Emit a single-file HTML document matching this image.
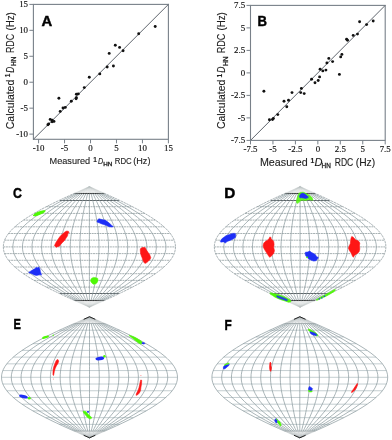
<!DOCTYPE html>
<html><head><meta charset="utf-8"><style>
html,body{margin:0;padding:0;background:#fff;}
svg{display:block;}
.tk{font-family:"Liberation Serif", serif;font-size:8.9px;fill:#111;stroke:#111;stroke-width:0.15;}
.al{font-family:"Liberation Sans", sans-serif;fill:#1e1e1e;stroke:#1e1e1e;stroke-width:0.12;}
.sb{stroke-width:0.3;}
.lt{font-family:"Liberation Sans", sans-serif;font-weight:bold;fill:#000;stroke:#000;stroke-width:0.45;}
.pl{stroke:#b5c2c5;stroke-width:0.8;fill:none;}
.pl8{stroke:#262626;stroke-width:1.1;fill:none;}
.cap{stroke:#bcc2c4;stroke-width:0.42;fill:none;}
.cape{stroke:#a9b1b3;stroke-width:0.5;fill:none;}
.capedge{stroke:#222;stroke-width:1;fill:none;stroke-linejoin:miter;}
.pl8e{stroke:#9aa3a6;stroke-width:0.8;fill:none;}
.pl7{stroke:#5f6669;stroke-width:1;fill:none;}
.me{stroke:#85959a;stroke-width:0.7;fill:none;}
.meo{stroke:#8d9a9e;stroke-width:0.75;fill:none;stroke-dasharray:2.5 0.6;}
.pld{stroke:#98a4a7;stroke-width:0.85;fill:none;stroke-dasharray:2 0.6;}
circle{fill:#111;}
</style></head><body>
<svg width="392" height="440" viewBox="0 0 392 440">
<rect width="392" height="440" fill="#fff"/>
<rect x="33.4" y="4.4" width="135" height="134.9" fill="none" stroke="#788089" stroke-width="1.1"/>
<line x1="33.4" y1="139.3" x2="168.4" y2="4.4" stroke="#5f656d" stroke-width="1"/>
<line x1="38.59" y1="139.3" x2="38.59" y2="143.3" stroke="#788089" stroke-width="1"/>
<line x1="29.4" y1="134.11" x2="33.4" y2="134.11" stroke="#788089" stroke-width="1"/>
<text x="38.59" y="151.3" text-anchor="middle" class="tk">-10</text>
<text x="28" y="137.11" text-anchor="end" class="tk">-10</text>
<line x1="64.55" y1="139.3" x2="64.55" y2="143.3" stroke="#788089" stroke-width="1"/>
<line x1="29.4" y1="108.17" x2="33.4" y2="108.17" stroke="#788089" stroke-width="1"/>
<text x="64.55" y="151.3" text-anchor="middle" class="tk">-5</text>
<text x="28" y="111.17" text-anchor="end" class="tk">-5</text>
<line x1="90.52" y1="139.3" x2="90.52" y2="143.3" stroke="#788089" stroke-width="1"/>
<line x1="29.4" y1="82.23" x2="33.4" y2="82.23" stroke="#788089" stroke-width="1"/>
<text x="90.52" y="151.3" text-anchor="middle" class="tk">0</text>
<text x="28" y="85.23" text-anchor="end" class="tk">0</text>
<line x1="116.48" y1="139.3" x2="116.48" y2="143.3" stroke="#788089" stroke-width="1"/>
<line x1="29.4" y1="56.28" x2="33.4" y2="56.28" stroke="#788089" stroke-width="1"/>
<text x="116.48" y="151.3" text-anchor="middle" class="tk">5</text>
<text x="28" y="59.28" text-anchor="end" class="tk">5</text>
<line x1="142.44" y1="139.3" x2="142.44" y2="143.3" stroke="#788089" stroke-width="1"/>
<line x1="29.4" y1="30.34" x2="33.4" y2="30.34" stroke="#788089" stroke-width="1"/>
<text x="142.44" y="151.3" text-anchor="middle" class="tk">10</text>
<text x="28" y="33.34" text-anchor="end" class="tk">10</text>
<line x1="168.4" y1="139.3" x2="168.4" y2="143.3" stroke="#788089" stroke-width="1"/>
<line x1="29.4" y1="4.4" x2="33.4" y2="4.4" stroke="#788089" stroke-width="1"/>
<text x="168.4" y="151.3" text-anchor="middle" class="tk">15</text>
<text x="28" y="7.4" text-anchor="end" class="tk">15</text>
<circle cx="155.2" cy="26.5" r="1.45"/>
<circle cx="138.7" cy="33.8" r="1.45"/>
<circle cx="115.3" cy="45.3" r="1.45"/>
<circle cx="119.6" cy="47.4" r="1.45"/>
<circle cx="123.1" cy="50.8" r="1.45"/>
<circle cx="109.2" cy="53.4" r="1.45"/>
<circle cx="107.2" cy="67" r="1.45"/>
<circle cx="113.4" cy="66" r="1.45"/>
<circle cx="89.3" cy="77.2" r="1.45"/>
<circle cx="99.8" cy="73.9" r="1.45"/>
<circle cx="84.3" cy="87.6" r="1.45"/>
<circle cx="76.4" cy="94.2" r="1.45"/>
<circle cx="78.3" cy="93.9" r="1.45"/>
<circle cx="76.4" cy="97.8" r="1.45"/>
<circle cx="76.1" cy="98.8" r="1.45"/>
<circle cx="71.3" cy="101.3" r="1.45"/>
<circle cx="58.9" cy="98.3" r="1.45"/>
<circle cx="63" cy="108" r="1.45"/>
<circle cx="65.3" cy="107.4" r="1.45"/>
<circle cx="60.2" cy="111.4" r="1.45"/>
<circle cx="50.2" cy="119.4" r="1.45"/>
<circle cx="52.1" cy="120.1" r="1.45"/>
<circle cx="54" cy="121.4" r="1.45"/>
<circle cx="52.1" cy="121.7" r="1.45"/>
<circle cx="48.7" cy="123.9" r="1.45"/>
<circle cx="47.9" cy="124.8" r="1.45"/>
<text x="41.55" y="26.2" class="lt" style="font-size:15px;font-weight:bold;" textLength="10.72" lengthAdjust="spacingAndGlyphs">A</text>
<text x="13.6" y="129.22" class="al" style="font-size:10px;" textLength="49.51" lengthAdjust="spacingAndGlyphs" transform="rotate(-90 13.6 129.22)">Calculated</text>
<text x="9.9" y="77.3" class="al" style="font-size:6.6px;font-weight:bold;" textLength="3.67" lengthAdjust="spacingAndGlyphs" transform="rotate(-90 9.9 77.3)">1</text>
<text x="13.6" y="72.85" class="al" style="font-size:10px;font-style:italic;" textLength="6.02" lengthAdjust="spacingAndGlyphs" transform="rotate(-90 13.6 72.85)">D</text>
<text x="15.7" y="66.02" class="al sb" style="font-size:6.6px;" textLength="9.37" lengthAdjust="spacingAndGlyphs" transform="rotate(-90 15.7 66.02)">HN</text>
<text x="13.6" y="53.11" class="al" style="font-size:10px;" textLength="19.22" lengthAdjust="spacingAndGlyphs" transform="rotate(-90 13.6 53.11)">RDC</text>
<text x="13.6" y="30.48" class="al" style="font-size:10px;" textLength="18.14" lengthAdjust="spacingAndGlyphs" transform="rotate(-90 13.6 30.48)">(Hz)</text>
<text x="49.57" y="164.2" class="al" style="font-size:9px;" textLength="40.64" lengthAdjust="spacingAndGlyphs">Measured</text>
<text x="93.23" y="161.6" class="al" style="font-size:6.5px;font-weight:bold;" textLength="3.62" lengthAdjust="spacingAndGlyphs">1</text>
<text x="97.89" y="164.2" class="al" style="font-size:9px;font-style:italic;" textLength="5.14" lengthAdjust="spacingAndGlyphs">D</text>
<text x="103.2" y="165.5" class="al sb" style="font-size:5.8px;" textLength="9.03" lengthAdjust="spacingAndGlyphs">HN</text>
<text x="114.77" y="164.2" class="al" style="font-size:9px;" textLength="16.99" lengthAdjust="spacingAndGlyphs">RDC</text>
<text x="133.25" y="164.2" class="al" style="font-size:9px;" textLength="17.18" lengthAdjust="spacingAndGlyphs">(Hz)</text>
<rect x="250.5" y="5.4" width="134.7" height="135" fill="none" stroke="#788089" stroke-width="1.1"/>
<line x1="250.5" y1="140.4" x2="385.2" y2="5.4" stroke="#5f656d" stroke-width="1"/>
<line x1="250.5" y1="140.4" x2="250.5" y2="144.4" stroke="#788089" stroke-width="1"/>
<line x1="246.5" y1="140.4" x2="250.5" y2="140.4" stroke="#788089" stroke-width="1"/>
<text x="250.5" y="152.4" text-anchor="middle" class="tk">-7.5</text>
<text x="245.1" y="143.4" text-anchor="end" class="tk">-7.5</text>
<line x1="272.95" y1="140.4" x2="272.95" y2="144.4" stroke="#788089" stroke-width="1"/>
<line x1="246.5" y1="117.9" x2="250.5" y2="117.9" stroke="#788089" stroke-width="1"/>
<text x="272.95" y="152.4" text-anchor="middle" class="tk">-5</text>
<text x="245.1" y="120.9" text-anchor="end" class="tk">-5</text>
<line x1="295.4" y1="140.4" x2="295.4" y2="144.4" stroke="#788089" stroke-width="1"/>
<line x1="246.5" y1="95.4" x2="250.5" y2="95.4" stroke="#788089" stroke-width="1"/>
<text x="295.4" y="152.4" text-anchor="middle" class="tk">-2.5</text>
<text x="245.1" y="98.4" text-anchor="end" class="tk">-2.5</text>
<line x1="317.85" y1="140.4" x2="317.85" y2="144.4" stroke="#788089" stroke-width="1"/>
<line x1="246.5" y1="72.9" x2="250.5" y2="72.9" stroke="#788089" stroke-width="1"/>
<text x="317.85" y="152.4" text-anchor="middle" class="tk">0</text>
<text x="245.1" y="75.9" text-anchor="end" class="tk">0</text>
<line x1="340.3" y1="140.4" x2="340.3" y2="144.4" stroke="#788089" stroke-width="1"/>
<line x1="246.5" y1="50.4" x2="250.5" y2="50.4" stroke="#788089" stroke-width="1"/>
<text x="340.3" y="152.4" text-anchor="middle" class="tk">2.5</text>
<text x="245.1" y="53.4" text-anchor="end" class="tk">2.5</text>
<line x1="362.75" y1="140.4" x2="362.75" y2="144.4" stroke="#788089" stroke-width="1"/>
<line x1="246.5" y1="27.9" x2="250.5" y2="27.9" stroke="#788089" stroke-width="1"/>
<text x="362.75" y="152.4" text-anchor="middle" class="tk">5</text>
<text x="245.1" y="30.9" text-anchor="end" class="tk">5</text>
<line x1="385.2" y1="140.4" x2="385.2" y2="144.4" stroke="#788089" stroke-width="1"/>
<line x1="246.5" y1="5.4" x2="250.5" y2="5.4" stroke="#788089" stroke-width="1"/>
<text x="385.2" y="152.4" text-anchor="middle" class="tk">7.5</text>
<text x="245.1" y="8.4" text-anchor="end" class="tk">7.5</text>
<circle cx="359.6" cy="21.7" r="1.45"/>
<circle cx="373.2" cy="21" r="1.45"/>
<circle cx="366.6" cy="24.6" r="1.45"/>
<circle cx="346.6" cy="39.2" r="1.45"/>
<circle cx="347.5" cy="40.2" r="1.45"/>
<circle cx="353.2" cy="35.4" r="1.45"/>
<circle cx="357.5" cy="34.1" r="1.45"/>
<circle cx="341.9" cy="54.4" r="1.45"/>
<circle cx="340.7" cy="56.9" r="1.45"/>
<circle cx="328.8" cy="58.4" r="1.45"/>
<circle cx="332.6" cy="61.6" r="1.45"/>
<circle cx="326.9" cy="62.9" r="1.45"/>
<circle cx="320.1" cy="69.3" r="1.45"/>
<circle cx="322.8" cy="70.9" r="1.45"/>
<circle cx="325.9" cy="70.1" r="1.45"/>
<circle cx="339.4" cy="74.4" r="1.45"/>
<circle cx="311.6" cy="79.2" r="1.45"/>
<circle cx="319.6" cy="76.9" r="1.45"/>
<circle cx="318.2" cy="80.5" r="1.45"/>
<circle cx="315" cy="82.8" r="1.45"/>
<circle cx="301.4" cy="88.4" r="1.45"/>
<circle cx="300.7" cy="92.6" r="1.45"/>
<circle cx="304.2" cy="93.6" r="1.45"/>
<circle cx="263.9" cy="91.2" r="1.45"/>
<circle cx="292" cy="92.6" r="1.45"/>
<circle cx="288.5" cy="100.2" r="1.45"/>
<circle cx="284" cy="101.3" r="1.45"/>
<circle cx="286.8" cy="106.8" r="1.45"/>
<circle cx="277.8" cy="114.6" r="1.45"/>
<circle cx="273.4" cy="118.4" r="1.45"/>
<circle cx="269.4" cy="119.8" r="1.45"/>
<circle cx="272.5" cy="119.5" r="1.45"/>
<text x="257.58" y="26.2" class="lt" style="font-size:15px;font-weight:bold;" textLength="9.47" lengthAdjust="spacingAndGlyphs">B</text>
<text x="225.5" y="129.12" class="al" style="font-size:10px;" textLength="49.51" lengthAdjust="spacingAndGlyphs" transform="rotate(-90 225.5 129.12)">Calculated</text>
<text x="221.6" y="77.4" class="al" style="font-size:6.6px;font-weight:bold;" textLength="3.67" lengthAdjust="spacingAndGlyphs" transform="rotate(-90 221.6 77.4)">1</text>
<text x="225.5" y="72.85" class="al" style="font-size:10px;font-style:italic;" textLength="6.13" lengthAdjust="spacingAndGlyphs" transform="rotate(-90 225.5 72.85)">D</text>
<text x="227.6" y="66.03" class="al sb" style="font-size:6.6px;" textLength="9.59" lengthAdjust="spacingAndGlyphs" transform="rotate(-90 227.6 66.03)">HN</text>
<text x="225.5" y="53.32" class="al" style="font-size:10px;" textLength="19.54" lengthAdjust="spacingAndGlyphs" transform="rotate(-90 225.5 53.32)">RDC</text>
<text x="225.5" y="30.48" class="al" style="font-size:10px;" textLength="18.24" lengthAdjust="spacingAndGlyphs" transform="rotate(-90 225.5 30.48)">(Hz)</text>
<text x="259.94" y="166.3" class="al" style="font-size:10.6px;" textLength="47.67" lengthAdjust="spacingAndGlyphs">Measured</text>
<text x="310.44" y="163" class="al" style="font-size:6.8px;font-weight:bold;" textLength="3.78" lengthAdjust="spacingAndGlyphs">1</text>
<text x="314.47" y="166.3" class="al" style="font-size:10.6px;font-style:italic;" textLength="7.99" lengthAdjust="spacingAndGlyphs">D</text>
<text x="321.59" y="168.2" class="al sb" style="font-size:6.6px;" textLength="9.25" lengthAdjust="spacingAndGlyphs">HN</text>
<text x="334.71" y="166.3" class="al" style="font-size:10.6px;" textLength="18.59" lengthAdjust="spacingAndGlyphs">RDC</text>
<text x="355.78" y="166.3" class="al" style="font-size:10.6px;" textLength="19.42" lengthAdjust="spacingAndGlyphs">(Hz)</text>
<line x1="74.45" y1="300.5" x2="104.35" y2="300.5" class="pl8"/>
<line x1="59.95" y1="293.5" x2="118.85" y2="293.5" class="pl7"/>
<line x1="46.35" y1="287.1" x2="132.45" y2="287.1" class="pld"/>
<line x1="34.06" y1="280.4" x2="144.74" y2="280.4" class="pld"/>
<line x1="23.44" y1="273.7" x2="155.36" y2="273.7" class="pld"/>
<line x1="14.84" y1="267" x2="163.96" y2="267" class="pld"/>
<line x1="8.49" y1="260.3" x2="170.31" y2="260.3" class="pld"/>
<line x1="4.61" y1="253.6" x2="174.19" y2="253.6" class="pld"/>
<line x1="3.3" y1="246.9" x2="175.5" y2="246.9" class="pld"/>
<line x1="4.61" y1="240.2" x2="174.19" y2="240.2" class="pld"/>
<line x1="8.49" y1="233.5" x2="170.31" y2="233.5" class="pld"/>
<line x1="14.84" y1="226.8" x2="163.96" y2="226.8" class="pld"/>
<line x1="23.44" y1="220.1" x2="155.36" y2="220.1" class="pld"/>
<line x1="34.06" y1="213.4" x2="144.74" y2="213.4" class="pld"/>
<line x1="46.35" y1="206.7" x2="132.45" y2="206.7" class="pld"/>
<line x1="59.95" y1="200.5" x2="118.85" y2="200.5" class="pl7"/>
<line x1="74.45" y1="193.5" x2="104.35" y2="193.5" class="pl8"/>
<polyline points="74.45,300.5 68.57,297.82 62.79,295.14 57.15,292.46 51.66,289.78 46.35,287.1 41.25,284.42 36.39,281.74 31.79,279.06 27.46,276.38 23.44,273.7 19.74,271.02 16.38,268.34 13.38,265.66 10.74,262.98 8.49,260.3 6.64,257.62 5.18,254.94 4.14,252.26 3.51,249.58 3.3,246.9 3.51,244.22 4.14,241.54 5.18,238.86 6.64,236.18 8.49,233.5 10.74,230.82 13.38,228.14 16.38,225.46 19.74,222.78 23.44,220.1 27.46,217.42 31.79,214.74 36.39,212.06 41.25,209.38 46.35,206.7 51.66,204.02 57.15,201.34 62.79,198.66 68.57,195.98 74.45,193.3" class="meo"/>
<polyline points="76.11,300.5 70.88,297.82 65.75,295.14 60.73,292.46 55.85,289.78 51.13,287.1 46.6,284.42 42.28,281.74 38.19,279.06 34.35,276.38 30.77,273.7 27.48,271.02 24.5,268.34 21.83,265.66 19.48,262.98 17.48,260.3 15.83,257.62 14.54,254.94 13.61,252.26 13.05,249.58 12.87,246.9 13.05,244.22 13.61,241.54 14.54,238.86 15.83,236.18 17.48,233.5 19.48,230.82 21.83,228.14 24.5,225.46 27.48,222.78 30.77,220.1 34.35,217.42 38.19,214.74 42.28,212.06 46.6,209.38 51.13,206.7 55.85,204.02 60.73,201.34 65.75,198.66 70.88,195.98 76.11,193.3" class="me"/>
<polyline points="77.77,300.5 73.2,297.82 68.71,295.14 64.31,292.46 60.04,289.78 55.92,287.1 51.95,284.42 48.17,281.74 44.59,279.06 41.23,276.38 38.1,273.7 35.22,271.02 32.61,268.34 30.27,265.66 28.22,262.98 26.47,260.3 25.03,257.62 23.9,254.94 23.09,252.26 22.6,249.58 22.43,246.9 22.6,244.22 23.09,241.54 23.9,238.86 25.03,236.18 26.47,233.5 28.22,230.82 30.27,228.14 32.61,225.46 35.22,222.78 38.1,220.1 41.23,217.42 44.59,214.74 48.17,212.06 51.95,209.38 55.92,206.7 60.04,204.02 64.31,201.34 68.71,198.66 73.2,195.98 77.77,193.3" class="me"/>
<polyline points="79.43,300.5 75.51,297.82 71.66,295.14 67.9,292.46 64.24,289.78 60.7,287.1 57.3,284.42 54.06,281.74 50.99,279.06 48.11,276.38 45.43,273.7 42.96,271.02 40.72,268.34 38.72,265.66 36.96,262.98 35.46,260.3 34.22,257.62 33.25,254.94 32.56,252.26 32.14,249.58 32,246.9 32.14,244.22 32.56,241.54 33.25,238.86 34.22,236.18 35.46,233.5 36.96,230.82 38.72,228.14 40.72,225.46 42.96,222.78 45.43,220.1 48.11,217.42 50.99,214.74 54.06,212.06 57.3,209.38 60.7,206.7 64.24,204.02 67.9,201.34 71.66,198.66 75.51,195.98 79.43,193.3" class="me"/>
<polyline points="81.09,300.5 77.83,297.82 74.62,295.14 71.48,292.46 68.43,289.78 65.48,287.1 62.65,284.42 59.95,281.74 57.39,279.06 54.99,276.38 52.76,273.7 50.7,271.02 48.84,268.34 47.17,265.66 45.7,262.98 44.45,260.3 43.42,257.62 42.61,254.94 42.03,252.26 41.68,249.58 41.57,246.9 41.68,244.22 42.03,241.54 42.61,238.86 43.42,236.18 44.45,233.5 45.7,230.82 47.17,228.14 48.84,225.46 50.7,222.78 52.76,220.1 54.99,217.42 57.39,214.74 59.95,212.06 62.65,209.38 65.48,206.7 68.43,204.02 71.48,201.34 74.62,198.66 77.83,195.98 81.09,193.3" class="me"/>
<polyline points="82.76,300.5 80.14,297.82 77.57,295.14 75.07,292.46 72.62,289.78 70.27,287.1 68,284.42 65.84,281.74 63.79,279.06 61.87,276.38 60.09,273.7 58.44,271.02 56.95,268.34 55.61,265.66 54.44,262.98 53.44,260.3 52.62,257.62 51.97,254.94 51.51,252.26 51.23,249.58 51.13,246.9 51.23,244.22 51.51,241.54 51.97,238.86 52.62,236.18 53.44,233.5 54.44,230.82 55.61,228.14 56.95,225.46 58.44,222.78 60.09,220.1 61.87,217.42 63.79,214.74 65.84,212.06 68,209.38 70.27,206.7 72.62,204.02 75.07,201.34 77.57,198.66 80.14,195.98 82.76,193.3" class="me"/>
<polyline points="84.42,300.5 82.46,297.82 80.53,295.14 78.65,292.46 76.82,289.78 75.05,287.1 73.35,284.42 71.73,281.74 70.2,279.06 68.75,276.38 67.41,273.7 66.18,271.02 65.06,268.34 64.06,265.66 63.18,262.98 62.43,260.3 61.81,257.62 61.33,254.94 60.98,252.26 60.77,249.58 60.7,246.9 60.77,244.22 60.98,241.54 61.33,238.86 61.81,236.18 62.43,233.5 63.18,230.82 64.06,228.14 65.06,225.46 66.18,222.78 67.41,220.1 68.75,217.42 70.2,214.74 71.73,212.06 73.35,209.38 75.05,206.7 76.82,204.02 78.65,201.34 80.53,198.66 82.46,195.98 84.42,193.3" class="me"/>
<polyline points="86.08,300.5 84.77,297.82 83.49,295.14 82.23,292.46 81.01,289.78 79.83,287.1 78.7,284.42 77.62,281.74 76.6,279.06 75.64,276.38 74.74,273.7 73.92,271.02 73.17,268.34 72.51,265.66 71.92,262.98 71.42,260.3 71.01,257.62 70.68,254.94 70.45,252.26 70.31,249.58 70.27,246.9 70.31,244.22 70.45,241.54 70.68,238.86 71.01,236.18 71.42,233.5 71.92,230.82 72.51,228.14 73.17,225.46 73.92,222.78 74.74,220.1 75.64,217.42 76.6,214.74 77.62,212.06 78.7,209.38 79.83,206.7 81.01,204.02 82.23,201.34 83.49,198.66 84.77,195.98 86.08,193.3" class="me"/>
<polyline points="87.74,300.5 87.09,297.82 86.44,295.14 85.82,292.46 85.21,289.78 84.62,287.1 84.05,284.42 83.51,281.74 83,279.06 82.52,276.38 82.07,273.7 81.66,271.02 81.29,268.34 80.95,265.66 80.66,262.98 80.41,260.3 80.2,257.62 80.04,254.94 79.93,252.26 79.86,249.58 79.83,246.9 79.86,244.22 79.93,241.54 80.04,238.86 80.2,236.18 80.41,233.5 80.66,230.82 80.95,228.14 81.29,225.46 81.66,222.78 82.07,220.1 82.52,217.42 83,214.74 83.51,212.06 84.05,209.38 84.62,206.7 85.21,204.02 85.82,201.34 86.44,198.66 87.09,195.98 87.74,193.3" class="me"/>
<polyline points="89.4,300.5 89.4,297.82 89.4,295.14 89.4,292.46 89.4,289.78 89.4,287.1 89.4,284.42 89.4,281.74 89.4,279.06 89.4,276.38 89.4,273.7 89.4,271.02 89.4,268.34 89.4,265.66 89.4,262.98 89.4,260.3 89.4,257.62 89.4,254.94 89.4,252.26 89.4,249.58 89.4,246.9 89.4,244.22 89.4,241.54 89.4,238.86 89.4,236.18 89.4,233.5 89.4,230.82 89.4,228.14 89.4,225.46 89.4,222.78 89.4,220.1 89.4,217.42 89.4,214.74 89.4,212.06 89.4,209.38 89.4,206.7 89.4,204.02 89.4,201.34 89.4,198.66 89.4,195.98 89.4,193.3" class="me"/>
<polyline points="91.06,300.5 91.71,297.82 92.36,295.14 92.98,292.46 93.59,289.78 94.18,287.1 94.75,284.42 95.29,281.74 95.8,279.06 96.28,276.38 96.73,273.7 97.14,271.02 97.51,268.34 97.85,265.66 98.14,262.98 98.39,260.3 98.6,257.62 98.76,254.94 98.87,252.26 98.94,249.58 98.97,246.9 98.94,244.22 98.87,241.54 98.76,238.86 98.6,236.18 98.39,233.5 98.14,230.82 97.85,228.14 97.51,225.46 97.14,222.78 96.73,220.1 96.28,217.42 95.8,214.74 95.29,212.06 94.75,209.38 94.18,206.7 93.59,204.02 92.98,201.34 92.36,198.66 91.71,195.98 91.06,193.3" class="me"/>
<polyline points="92.72,300.5 94.03,297.82 95.31,295.14 96.57,292.46 97.79,289.78 98.97,287.1 100.1,284.42 101.18,281.74 102.2,279.06 103.16,276.38 104.06,273.7 104.88,271.02 105.63,268.34 106.29,265.66 106.88,262.98 107.38,260.3 107.79,257.62 108.12,254.94 108.35,252.26 108.49,249.58 108.53,246.9 108.49,244.22 108.35,241.54 108.12,238.86 107.79,236.18 107.38,233.5 106.88,230.82 106.29,228.14 105.63,225.46 104.88,222.78 104.06,220.1 103.16,217.42 102.2,214.74 101.18,212.06 100.1,209.38 98.97,206.7 97.79,204.02 96.57,201.34 95.31,198.66 94.03,195.98 92.72,193.3" class="me"/>
<polyline points="94.38,300.5 96.34,297.82 98.27,295.14 100.15,292.46 101.98,289.78 103.75,287.1 105.45,284.42 107.07,281.74 108.6,279.06 110.05,276.38 111.39,273.7 112.62,271.02 113.74,268.34 114.74,265.66 115.62,262.98 116.37,260.3 116.99,257.62 117.47,254.94 117.82,252.26 118.03,249.58 118.1,246.9 118.03,244.22 117.82,241.54 117.47,238.86 116.99,236.18 116.37,233.5 115.62,230.82 114.74,228.14 113.74,225.46 112.62,222.78 111.39,220.1 110.05,217.42 108.6,214.74 107.07,212.06 105.45,209.38 103.75,206.7 101.98,204.02 100.15,201.34 98.27,198.66 96.34,195.98 94.38,193.3" class="me"/>
<polyline points="96.04,300.5 98.66,297.82 101.23,295.14 103.73,292.46 106.18,289.78 108.53,287.1 110.8,284.42 112.96,281.74 115.01,279.06 116.93,276.38 118.71,273.7 120.36,271.02 121.85,268.34 123.19,265.66 124.36,262.98 125.36,260.3 126.18,257.62 126.83,254.94 127.29,252.26 127.57,249.58 127.67,246.9 127.57,244.22 127.29,241.54 126.83,238.86 126.18,236.18 125.36,233.5 124.36,230.82 123.19,228.14 121.85,225.46 120.36,222.78 118.71,220.1 116.93,217.42 115.01,214.74 112.96,212.06 110.8,209.38 108.53,206.7 106.18,204.02 103.73,201.34 101.23,198.66 98.66,195.98 96.04,193.3" class="me"/>
<polyline points="97.71,300.5 100.97,297.82 104.18,295.14 107.32,292.46 110.37,289.78 113.32,287.1 116.15,284.42 118.85,281.74 121.41,279.06 123.81,276.38 126.04,273.7 128.1,271.02 129.96,268.34 131.63,265.66 133.1,262.98 134.35,260.3 135.38,257.62 136.19,254.94 136.77,252.26 137.12,249.58 137.23,246.9 137.12,244.22 136.77,241.54 136.19,238.86 135.38,236.18 134.35,233.5 133.1,230.82 131.63,228.14 129.96,225.46 128.1,222.78 126.04,220.1 123.81,217.42 121.41,214.74 118.85,212.06 116.15,209.38 113.32,206.7 110.37,204.02 107.32,201.34 104.18,198.66 100.97,195.98 97.71,193.3" class="me"/>
<polyline points="99.37,300.5 103.29,297.82 107.14,295.14 110.9,292.46 114.56,289.78 118.1,287.1 121.5,284.42 124.74,281.74 127.81,279.06 130.69,276.38 133.37,273.7 135.84,271.02 138.08,268.34 140.08,265.66 141.84,262.98 143.34,260.3 144.58,257.62 145.55,254.94 146.24,252.26 146.66,249.58 146.8,246.9 146.66,244.22 146.24,241.54 145.55,238.86 144.58,236.18 143.34,233.5 141.84,230.82 140.08,228.14 138.08,225.46 135.84,222.78 133.37,220.1 130.69,217.42 127.81,214.74 124.74,212.06 121.5,209.38 118.1,206.7 114.56,204.02 110.9,201.34 107.14,198.66 103.29,195.98 99.37,193.3" class="me"/>
<polyline points="101.03,300.5 105.6,297.82 110.09,295.14 114.49,292.46 118.76,289.78 122.88,287.1 126.85,284.42 130.63,281.74 134.21,279.06 137.57,276.38 140.7,273.7 143.58,271.02 146.19,268.34 148.53,265.66 150.58,262.98 152.33,260.3 153.77,257.62 154.9,254.94 155.71,252.26 156.2,249.58 156.37,246.9 156.2,244.22 155.71,241.54 154.9,238.86 153.77,236.18 152.33,233.5 150.58,230.82 148.53,228.14 146.19,225.46 143.58,222.78 140.7,220.1 137.57,217.42 134.21,214.74 130.63,212.06 126.85,209.38 122.88,206.7 118.76,204.02 114.49,201.34 110.09,198.66 105.6,195.98 101.03,193.3" class="me"/>
<polyline points="102.69,300.5 107.92,297.82 113.05,295.14 118.07,292.46 122.95,289.78 127.67,287.1 132.2,284.42 136.52,281.74 140.61,279.06 144.45,276.38 148.03,273.7 151.32,271.02 154.3,268.34 156.97,265.66 159.32,262.98 161.32,260.3 162.97,257.62 164.26,254.94 165.19,252.26 165.75,249.58 165.93,246.9 165.75,244.22 165.19,241.54 164.26,238.86 162.97,236.18 161.32,233.5 159.32,230.82 156.97,228.14 154.3,225.46 151.32,222.78 148.03,220.1 144.45,217.42 140.61,214.74 136.52,212.06 132.2,209.38 127.67,206.7 122.95,204.02 118.07,201.34 113.05,198.66 107.92,195.98 102.69,193.3" class="me"/>
<polyline points="104.35,300.5 110.23,297.82 116.01,295.14 121.65,292.46 127.14,289.78 132.45,287.1 137.55,284.42 142.41,281.74 147.01,279.06 151.34,276.38 155.36,273.7 159.06,271.02 162.42,268.34 165.42,265.66 168.06,262.98 170.31,260.3 172.16,257.62 173.62,254.94 174.66,252.26 175.29,249.58 175.5,246.9 175.29,244.22 174.66,241.54 173.62,238.86 172.16,236.18 170.31,233.5 168.06,230.82 165.42,228.14 162.42,225.46 159.06,222.78 155.36,220.1 151.34,217.42 147.01,214.74 142.41,212.06 137.55,209.38 132.45,206.7 127.14,204.02 121.65,201.34 116.01,198.66 110.23,195.98 104.35,193.3" class="meo"/>
<path d="M74.45,193.3L89.4,186.6M76.11,193.3L89.4,186.6M77.77,193.3L89.4,186.6M79.43,193.3L89.4,186.6M81.09,193.3L89.4,186.6M82.76,193.3L89.4,186.6M84.42,193.3L89.4,186.6M86.08,193.3L89.4,186.6M87.74,193.3L89.4,186.6M89.4,193.3L89.4,186.6M91.06,193.3L89.4,186.6M92.72,193.3L89.4,186.6M94.38,193.3L89.4,186.6M96.04,193.3L89.4,186.6M97.71,193.3L89.4,186.6M99.37,193.3L89.4,186.6M101.03,193.3L89.4,186.6M102.69,193.3L89.4,186.6M104.35,193.3L89.4,186.6" class="cap"/>
<path d="M74.45,300.5L89.4,307.2M76.11,300.5L89.4,307.2M77.77,300.5L89.4,307.2M79.43,300.5L89.4,307.2M81.09,300.5L89.4,307.2M82.76,300.5L89.4,307.2M84.42,300.5L89.4,307.2M86.08,300.5L89.4,307.2M87.74,300.5L89.4,307.2M89.4,300.5L89.4,307.2M91.06,300.5L89.4,307.2M92.72,300.5L89.4,307.2M94.38,300.5L89.4,307.2M96.04,300.5L89.4,307.2M97.71,300.5L89.4,307.2M99.37,300.5L89.4,307.2M101.03,300.5L89.4,307.2M102.69,300.5L89.4,307.2M104.35,300.5L89.4,307.2" class="cap"/>
<ellipse cx="39.3" cy="213.2" rx="6.9" ry="1.7" transform="rotate(-22 39.3 213.2)" fill="#4ff806"/>
<polygon points="54.46,245.73 55.42,243.49 56.7,241.26 58.29,239.03 59.57,237.12 61.16,235.2 63.39,233.29 65.31,231.7 66.9,231.06 68.49,231.38 69.01,232.53 67.98,233.61 67.54,235.84 66.26,237.76 64.67,240.31 62.76,242.22 60.84,244.13 59.57,246.05 57.65,246.68 56.38,247.32 55.1,246.36" fill="#fe1616" stroke="#fe1616" stroke-width="0.6" stroke-linejoin="round"/>
<polygon points="140.34,248.85 142.12,247.57 145.18,247.57 146.2,249.61 148.24,252.67 149.52,254.2 150.8,257.78 149.78,259.82 148.24,261.35 146.71,262.62 144.93,263.39 143.91,262.37 142.89,260.33 142.12,257.78 141.1,255.22 140.59,253.18 140.34,251.14" fill="#fe1616" stroke="#fe1616" stroke-width="0.6" stroke-linejoin="round"/>
<polygon points="97.04,221.12 98.78,218.78 100.82,219.29 102.86,219.8 104.9,220.1 106.94,221.33 109.49,223.37 111.73,225.41 113.37,226.63 111.02,226.94 108.98,226.63 106.43,225.41 103.88,224.59 101.84,223.88 99.29,222.86 97.24,222.14" fill="#1d2ef6" stroke="#1d2ef6" stroke-width="0.6" stroke-linejoin="round"/>
<polygon points="28.75,272.29 30.27,271.39 31.61,270.5 33.39,269.61 34.73,268.71 36.07,267.38 37.41,267.82 38.75,266.93 39.82,268.71 40.36,271.39 41.25,274.07 41.43,275.14 40.09,274.52 38.75,274.96 36.52,275.41 34.29,274.96 32.5,274.07 30.71,273.18 28.93,272.73" fill="#1d2ef6" stroke="#1d2ef6" stroke-width="0.6" stroke-linejoin="round"/>
<polygon points="90.71,279.95 91.48,278.42 93.39,277.42 95.68,277.65 97.75,278.42 97.98,280.71 96.83,283.01 95.3,283.93 93.39,284.15 91.86,283.01 90.86,281.48" fill="#4ff806" stroke="#4ff806" stroke-width="0.6" stroke-linejoin="round"/>
<text x="13.11" y="197.7" class="lt" style="font-size:15px;font-weight:bold;" textLength="8.89" lengthAdjust="spacingAndGlyphs">C</text>
<line x1="285.2" y1="300.5" x2="315" y2="300.5" class="pl8"/>
<line x1="270.75" y1="293.5" x2="329.45" y2="293.5" class="pl7"/>
<line x1="257.2" y1="287.1" x2="343" y2="287.1" class="pld"/>
<line x1="244.95" y1="280.4" x2="355.25" y2="280.4" class="pld"/>
<line x1="234.37" y1="273.7" x2="365.83" y2="273.7" class="pld"/>
<line x1="225.8" y1="267" x2="374.4" y2="267" class="pld"/>
<line x1="219.47" y1="260.3" x2="380.73" y2="260.3" class="pld"/>
<line x1="215.6" y1="253.6" x2="384.6" y2="253.6" class="pld"/>
<line x1="214.3" y1="246.9" x2="385.9" y2="246.9" class="pld"/>
<line x1="215.6" y1="240.2" x2="384.6" y2="240.2" class="pld"/>
<line x1="219.47" y1="233.5" x2="380.73" y2="233.5" class="pld"/>
<line x1="225.8" y1="226.8" x2="374.4" y2="226.8" class="pld"/>
<line x1="234.37" y1="220.1" x2="365.83" y2="220.1" class="pld"/>
<line x1="244.95" y1="213.4" x2="355.25" y2="213.4" class="pld"/>
<line x1="257.2" y1="206.7" x2="343" y2="206.7" class="pld"/>
<line x1="270.75" y1="200.5" x2="329.45" y2="200.5" class="pl7"/>
<line x1="285.2" y1="193.5" x2="315" y2="193.5" class="pl8"/>
<polyline points="285.2,300.5 279.34,297.82 273.59,295.14 267.96,292.46 262.49,289.78 257.2,287.1 252.12,284.42 247.28,281.74 242.69,279.06 238.38,276.38 234.37,273.7 230.69,271.02 227.34,268.34 224.34,265.66 221.72,262.98 219.47,260.3 217.62,257.62 216.17,254.94 215.13,252.26 214.51,249.58 214.3,246.9 214.51,244.22 215.13,241.54 216.17,238.86 217.62,236.18 219.47,233.5 221.72,230.82 224.34,228.14 227.34,225.46 230.69,222.78 234.37,220.1 238.38,217.42 242.69,214.74 247.28,212.06 252.12,209.38 257.2,206.7 262.49,204.02 267.96,201.34 273.59,198.66 279.34,195.98 285.2,193.3" class="meo"/>
<polyline points="286.86,300.5 281.65,297.82 276.53,295.14 271.53,292.46 266.67,289.78 261.97,287.1 257.45,284.42 253.15,281.74 249.07,279.06 245.24,276.38 241.68,273.7 238.4,271.02 235.42,268.34 232.76,265.66 230.43,262.98 228.43,260.3 226.79,257.62 225.5,254.94 224.58,252.26 224.02,249.58 223.83,246.9 224.02,244.22 224.58,241.54 225.5,238.86 226.79,236.18 228.43,233.5 230.43,230.82 232.76,228.14 235.42,225.46 238.4,222.78 241.68,220.1 245.24,217.42 249.07,214.74 253.15,212.06 257.45,209.38 261.97,206.7 266.67,204.02 271.53,201.34 276.53,198.66 281.65,195.98 286.86,193.3" class="me"/>
<polyline points="288.51,300.5 283.96,297.82 279.48,295.14 275.1,292.46 270.85,289.78 266.73,287.1 262.78,284.42 259.01,281.74 255.45,279.06 252.1,276.38 248.98,273.7 246.11,271.02 243.51,268.34 241.18,265.66 239.14,262.98 237.39,260.3 235.95,257.62 234.82,254.94 234.02,252.26 233.53,249.58 233.37,246.9 233.53,244.22 234.02,241.54 234.82,238.86 235.95,236.18 237.39,233.5 239.14,230.82 241.18,228.14 243.51,225.46 246.11,222.78 248.98,220.1 252.1,217.42 255.45,214.74 259.01,212.06 262.78,209.38 266.73,206.7 270.85,204.02 275.1,201.34 279.48,198.66 283.96,195.98 288.51,193.3" class="me"/>
<polyline points="290.17,300.5 286.26,297.82 282.42,295.14 278.67,292.46 275.03,289.78 271.5,287.1 268.11,284.42 264.88,281.74 261.83,279.06 258.95,276.38 256.28,273.7 253.82,271.02 251.59,268.34 249.6,265.66 247.85,262.98 246.35,260.3 245.12,257.62 244.15,254.94 243.46,252.26 243.04,249.58 242.9,246.9 243.04,244.22 243.46,241.54 244.15,238.86 245.12,236.18 246.35,233.5 247.85,230.82 249.6,228.14 251.59,225.46 253.82,222.78 256.28,220.1 258.95,217.42 261.83,214.74 264.88,212.06 268.11,209.38 271.5,206.7 275.03,204.02 278.67,201.34 282.42,198.66 286.26,195.98 290.17,193.3" class="me"/>
<polyline points="291.82,300.5 288.57,297.82 285.37,295.14 282.24,292.46 279.2,289.78 276.27,287.1 273.45,284.42 270.75,281.74 268.2,279.06 265.81,276.38 263.59,273.7 261.54,271.02 259.68,268.34 258.01,265.66 256.55,262.98 255.31,260.3 254.28,257.62 253.47,254.94 252.9,252.26 252.55,249.58 252.43,246.9 252.55,244.22 252.9,241.54 253.47,238.86 254.28,236.18 255.31,233.5 256.55,230.82 258.01,228.14 259.68,225.46 261.54,222.78 263.59,220.1 265.81,217.42 268.2,214.74 270.75,212.06 273.45,209.38 276.27,206.7 279.2,204.02 282.24,201.34 285.37,198.66 288.57,195.98 291.82,193.3" class="me"/>
<polyline points="293.48,300.5 290.87,297.82 288.32,295.14 285.82,292.46 283.38,289.78 281.03,287.1 278.78,284.42 276.62,281.74 274.58,279.06 272.67,276.38 270.89,273.7 269.25,271.02 267.76,268.34 266.43,265.66 265.26,262.98 264.27,260.3 263.44,257.62 262.8,254.94 262.34,252.26 262.06,249.58 261.97,246.9 262.06,244.22 262.34,241.54 262.8,238.86 263.44,236.18 264.27,233.5 265.26,230.82 266.43,228.14 267.76,225.46 269.25,222.78 270.89,220.1 272.67,217.42 274.58,214.74 276.62,212.06 278.78,209.38 281.03,206.7 283.38,204.02 285.82,201.34 288.32,198.66 290.87,195.98 293.48,193.3" class="me"/>
<polyline points="295.13,300.5 293.18,297.82 291.26,295.14 289.39,292.46 287.56,289.78 285.8,287.1 284.11,284.42 282.49,281.74 280.96,279.06 279.53,276.38 278.19,273.7 276.96,271.02 275.85,268.34 274.85,265.66 273.97,262.98 273.22,260.3 272.61,257.62 272.12,254.94 271.78,252.26 271.57,249.58 271.5,246.9 271.57,244.22 271.78,241.54 272.12,238.86 272.61,236.18 273.22,233.5 273.97,230.82 274.85,228.14 275.85,225.46 276.96,222.78 278.19,220.1 279.53,217.42 280.96,214.74 282.49,212.06 284.11,209.38 285.8,206.7 287.56,204.02 289.39,201.34 291.26,198.66 293.18,195.98 295.13,193.3" class="me"/>
<polyline points="296.79,300.5 295.49,297.82 294.21,295.14 292.96,292.46 291.74,289.78 290.57,287.1 289.44,284.42 288.36,281.74 287.34,279.06 286.38,276.38 285.49,273.7 284.67,271.02 283.93,268.34 283.27,265.66 282.68,262.98 282.18,260.3 281.77,257.62 281.45,254.94 281.22,252.26 281.08,249.58 281.03,246.9 281.08,244.22 281.22,241.54 281.45,238.86 281.77,236.18 282.18,233.5 282.68,230.82 283.27,228.14 283.93,225.46 284.67,222.78 285.49,220.1 286.38,217.42 287.34,214.74 288.36,212.06 289.44,209.38 290.57,206.7 291.74,204.02 292.96,201.34 294.21,198.66 295.49,195.98 296.79,193.3" class="me"/>
<polyline points="298.44,300.5 297.79,297.82 297.15,295.14 296.53,292.46 295.92,289.78 295.33,287.1 294.77,284.42 294.23,281.74 293.72,279.06 293.24,276.38 292.8,273.7 292.39,271.02 292.02,268.34 291.68,265.66 291.39,262.98 291.14,260.3 290.94,257.62 290.77,254.94 290.66,252.26 290.59,249.58 290.57,246.9 290.59,244.22 290.66,241.54 290.77,238.86 290.94,236.18 291.14,233.5 291.39,230.82 291.68,228.14 292.02,225.46 292.39,222.78 292.8,220.1 293.24,217.42 293.72,214.74 294.23,212.06 294.77,209.38 295.33,206.7 295.92,204.02 296.53,201.34 297.15,198.66 297.79,195.98 298.44,193.3" class="me"/>
<polyline points="300.1,300.5 300.1,297.82 300.1,295.14 300.1,292.46 300.1,289.78 300.1,287.1 300.1,284.42 300.1,281.74 300.1,279.06 300.1,276.38 300.1,273.7 300.1,271.02 300.1,268.34 300.1,265.66 300.1,262.98 300.1,260.3 300.1,257.62 300.1,254.94 300.1,252.26 300.1,249.58 300.1,246.9 300.1,244.22 300.1,241.54 300.1,238.86 300.1,236.18 300.1,233.5 300.1,230.82 300.1,228.14 300.1,225.46 300.1,222.78 300.1,220.1 300.1,217.42 300.1,214.74 300.1,212.06 300.1,209.38 300.1,206.7 300.1,204.02 300.1,201.34 300.1,198.66 300.1,195.98 300.1,193.3" class="me"/>
<polyline points="301.76,300.5 302.41,297.82 303.05,295.14 303.67,292.46 304.28,289.78 304.87,287.1 305.43,284.42 305.97,281.74 306.48,279.06 306.96,276.38 307.4,273.7 307.81,271.02 308.18,268.34 308.52,265.66 308.81,262.98 309.06,260.3 309.26,257.62 309.43,254.94 309.54,252.26 309.61,249.58 309.63,246.9 309.61,244.22 309.54,241.54 309.43,238.86 309.26,236.18 309.06,233.5 308.81,230.82 308.52,228.14 308.18,225.46 307.81,222.78 307.4,220.1 306.96,217.42 306.48,214.74 305.97,212.06 305.43,209.38 304.87,206.7 304.28,204.02 303.67,201.34 303.05,198.66 302.41,195.98 301.76,193.3" class="me"/>
<polyline points="303.41,300.5 304.71,297.82 305.99,295.14 307.24,292.46 308.46,289.78 309.63,287.1 310.76,284.42 311.84,281.74 312.86,279.06 313.82,276.38 314.71,273.7 315.53,271.02 316.27,268.34 316.93,265.66 317.52,262.98 318.02,260.3 318.43,257.62 318.75,254.94 318.98,252.26 319.12,249.58 319.17,246.9 319.12,244.22 318.98,241.54 318.75,238.86 318.43,236.18 318.02,233.5 317.52,230.82 316.93,228.14 316.27,225.46 315.53,222.78 314.71,220.1 313.82,217.42 312.86,214.74 311.84,212.06 310.76,209.38 309.63,206.7 308.46,204.02 307.24,201.34 305.99,198.66 304.71,195.98 303.41,193.3" class="me"/>
<polyline points="305.07,300.5 307.02,297.82 308.94,295.14 310.81,292.46 312.64,289.78 314.4,287.1 316.09,284.42 317.71,281.74 319.24,279.06 320.67,276.38 322.01,273.7 323.24,271.02 324.35,268.34 325.35,265.66 326.23,262.98 326.98,260.3 327.59,257.62 328.08,254.94 328.42,252.26 328.63,249.58 328.7,246.9 328.63,244.22 328.42,241.54 328.08,238.86 327.59,236.18 326.98,233.5 326.23,230.82 325.35,228.14 324.35,225.46 323.24,222.78 322.01,220.1 320.67,217.42 319.24,214.74 317.71,212.06 316.09,209.38 314.4,206.7 312.64,204.02 310.81,201.34 308.94,198.66 307.02,195.98 305.07,193.3" class="me"/>
<polyline points="306.72,300.5 309.33,297.82 311.88,295.14 314.38,292.46 316.82,289.78 319.17,287.1 321.42,284.42 323.58,281.74 325.62,279.06 327.53,276.38 329.31,273.7 330.95,271.02 332.44,268.34 333.77,265.66 334.94,262.98 335.93,260.3 336.76,257.62 337.4,254.94 337.86,252.26 338.14,249.58 338.23,246.9 338.14,244.22 337.86,241.54 337.4,238.86 336.76,236.18 335.93,233.5 334.94,230.82 333.77,228.14 332.44,225.46 330.95,222.78 329.31,220.1 327.53,217.42 325.62,214.74 323.58,212.06 321.42,209.38 319.17,206.7 316.82,204.02 314.38,201.34 311.88,198.66 309.33,195.98 306.72,193.3" class="me"/>
<polyline points="308.38,300.5 311.63,297.82 314.83,295.14 317.96,292.46 321,289.78 323.93,287.1 326.75,284.42 329.45,281.74 332,279.06 334.39,276.38 336.61,273.7 338.66,271.02 340.52,268.34 342.19,265.66 343.65,262.98 344.89,260.3 345.92,257.62 346.73,254.94 347.3,252.26 347.65,249.58 347.77,246.9 347.65,244.22 347.3,241.54 346.73,238.86 345.92,236.18 344.89,233.5 343.65,230.82 342.19,228.14 340.52,225.46 338.66,222.78 336.61,220.1 334.39,217.42 332,214.74 329.45,212.06 326.75,209.38 323.93,206.7 321,204.02 317.96,201.34 314.83,198.66 311.63,195.98 308.38,193.3" class="me"/>
<polyline points="310.03,300.5 313.94,297.82 317.78,295.14 321.53,292.46 325.17,289.78 328.7,287.1 332.09,284.42 335.32,281.74 338.37,279.06 341.25,276.38 343.92,273.7 346.38,271.02 348.61,268.34 350.6,265.66 352.35,262.98 353.85,260.3 355.08,257.62 356.05,254.94 356.74,252.26 357.16,249.58 357.3,246.9 357.16,244.22 356.74,241.54 356.05,238.86 355.08,236.18 353.85,233.5 352.35,230.82 350.6,228.14 348.61,225.46 346.38,222.78 343.92,220.1 341.25,217.42 338.37,214.74 335.32,212.06 332.09,209.38 328.7,206.7 325.17,204.02 321.53,201.34 317.78,198.66 313.94,195.98 310.03,193.3" class="me"/>
<polyline points="311.69,300.5 316.24,297.82 320.72,295.14 325.1,292.46 329.35,289.78 333.47,287.1 337.42,284.42 341.19,281.74 344.75,279.06 348.1,276.38 351.22,273.7 354.09,271.02 356.69,268.34 359.02,265.66 361.06,262.98 362.81,260.3 364.25,257.62 365.38,254.94 366.18,252.26 366.67,249.58 366.83,246.9 366.67,244.22 366.18,241.54 365.38,238.86 364.25,236.18 362.81,233.5 361.06,230.82 359.02,228.14 356.69,225.46 354.09,222.78 351.22,220.1 348.1,217.42 344.75,214.74 341.19,212.06 337.42,209.38 333.47,206.7 329.35,204.02 325.1,201.34 320.72,198.66 316.24,195.98 311.69,193.3" class="me"/>
<polyline points="313.34,300.5 318.55,297.82 323.67,295.14 328.67,292.46 333.53,289.78 338.23,287.1 342.75,284.42 347.05,281.74 351.13,279.06 354.96,276.38 358.52,273.7 361.8,271.02 364.78,268.34 367.44,265.66 369.77,262.98 371.77,260.3 373.41,257.62 374.7,254.94 375.62,252.26 376.18,249.58 376.37,246.9 376.18,244.22 375.62,241.54 374.7,238.86 373.41,236.18 371.77,233.5 369.77,230.82 367.44,228.14 364.78,225.46 361.8,222.78 358.52,220.1 354.96,217.42 351.13,214.74 347.05,212.06 342.75,209.38 338.23,206.7 333.53,204.02 328.67,201.34 323.67,198.66 318.55,195.98 313.34,193.3" class="me"/>
<polyline points="315,300.5 320.86,297.82 326.61,295.14 332.24,292.46 337.71,289.78 343,287.1 348.08,284.42 352.92,281.74 357.51,279.06 361.82,276.38 365.83,273.7 369.51,271.02 372.86,268.34 375.86,265.66 378.48,262.98 380.73,260.3 382.58,257.62 384.03,254.94 385.07,252.26 385.69,249.58 385.9,246.9 385.69,244.22 385.07,241.54 384.03,238.86 382.58,236.18 380.73,233.5 378.48,230.82 375.86,228.14 372.86,225.46 369.51,222.78 365.83,220.1 361.82,217.42 357.51,214.74 352.92,212.06 348.08,209.38 343,206.7 337.71,204.02 332.24,201.34 326.61,198.66 320.86,195.98 315,193.3" class="meo"/>
<path d="M285.2,193.3L300.1,186.6M286.86,193.3L300.1,186.6M288.51,193.3L300.1,186.6M290.17,193.3L300.1,186.6M291.82,193.3L300.1,186.6M293.48,193.3L300.1,186.6M295.13,193.3L300.1,186.6M296.79,193.3L300.1,186.6M298.44,193.3L300.1,186.6M300.1,193.3L300.1,186.6M301.76,193.3L300.1,186.6M303.41,193.3L300.1,186.6M305.07,193.3L300.1,186.6M306.72,193.3L300.1,186.6M308.38,193.3L300.1,186.6M310.03,193.3L300.1,186.6M311.69,193.3L300.1,186.6M313.34,193.3L300.1,186.6M315,193.3L300.1,186.6" class="cap"/>
<path d="M285.2,300.5L300.1,307.2M286.86,300.5L300.1,307.2M288.51,300.5L300.1,307.2M290.17,300.5L300.1,307.2M291.82,300.5L300.1,307.2M293.48,300.5L300.1,307.2M295.13,300.5L300.1,307.2M296.79,300.5L300.1,307.2M298.44,300.5L300.1,307.2M300.1,300.5L300.1,307.2M301.76,300.5L300.1,307.2M303.41,300.5L300.1,307.2M305.07,300.5L300.1,307.2M306.72,300.5L300.1,307.2M308.38,300.5L300.1,307.2M310.03,300.5L300.1,307.2M311.69,300.5L300.1,307.2M313.34,300.5L300.1,307.2M315,300.5L300.1,307.2" class="cap"/>
<polygon points="298.74,193.51 300.57,192.29 303.64,192.29 306.08,193.51 308.53,194.74 310.98,196.57 312.21,197.8 312.82,200.25 310.37,199.94 307.92,199.64 306.08,200.55 303.64,200.25 301.19,200.25 299.35,202.08 297.51,203.62 296.29,202.08 296.9,199.02 297.82,195.96" fill="#4ff806" stroke="#4ff806" stroke-width="0.6" stroke-linejoin="round" fill-opacity="0.85" stroke-opacity="0.85"/>
<polygon points="299.96,194.74 302.1,193.21 303.94,193.51 305.78,194.74 307.31,195.96 308.53,197.19 307.31,198.1 305.17,198.41 303.64,198.1 301.8,197.8 299.96,197.8 299.35,196.57" fill="#1d2ef6" stroke="#1d2ef6" stroke-width="0.6" stroke-linejoin="round"/>
<polygon points="220.35,241.37 221.88,238.81 223.93,237.28 225.97,235.74 229.55,234.41 232.62,233.39 235.18,233.39 235.69,235.23 235.49,237.28 233.64,238.81 230.58,240.14 226.99,241.57 225.46,242.9 223.93,241.88 221.88,241.88 220.86,242.19" fill="#1d2ef6" stroke="#1d2ef6" stroke-width="0.6" stroke-linejoin="round"/>
<polygon points="270.05,236.8 271.15,237.9 270.78,239.36 272.25,239.73 273.71,241.56 274.08,244.48 273.71,247.41 274.44,250.7 273.71,253.27 271.88,255.46 270.05,257.29 268.95,256.56 267.85,254.73 266.39,252.53 264.56,249.61 263.46,247.41 263.1,245.22 263.83,243.02 265.29,241.56 267.12,240.46 268.95,238.63" fill="#fe1616" stroke="#fe1616" stroke-width="0.6" stroke-linejoin="round"/>
<polygon points="351.74,236.46 353.2,237.19 354.67,238.66 355.77,240.12 358.33,240.85 359.79,243.05 359.42,245.97 359.79,248.9 359.06,251.83 357.6,253.29 355.77,254.39 354.3,255.49 353.57,257.32 352.47,256.22 351.37,253.29 349.54,250.73 348.45,248.17 349.18,245.97 350.28,243.78 350.64,240.85 351.01,238.29" fill="#fe1616" stroke="#fe1616" stroke-width="0.6" stroke-linejoin="round"/>
<polygon points="305.36,252.27 307.65,252.04 309.95,251.12 311.09,252.27 313.39,253.42 315.3,254.56 316.45,256.48 318.36,257.62 317.6,258.77 316.07,260.68 313.77,261.07 311.48,260.3 309.18,259.15 307.27,257.62 305.74,255.71 305.2,253.8" fill="#1d2ef6" stroke="#1d2ef6" stroke-width="0.6" stroke-linejoin="round"/>
<ellipse cx="307.1" cy="257.4" rx="0.9" ry="0.8" transform="rotate(0 307.1 257.4)" fill="#4ff806"/>
<polygon points="270,292.68 273.06,293.44 276.89,294.21 280.71,295.36 284.54,296.89 287.6,298.42 290.28,299.95 291.04,301.86 288.36,302.24 285.3,301.09 281.48,299.95 277.65,298.42 274.59,296.89 272.3,295.36 270.38,294.21" fill="#4ff806" stroke="#4ff806" stroke-width="0.6" stroke-linejoin="round"/>
<polygon points="276.66,295.78 279.59,296.43 282.84,297.41 285.77,298.71 287.72,300.01 286.42,300.66 283.82,299.69 280.89,298.71 278.29,297.73 276.99,296.95" fill="#1d2ef6" stroke="#1d2ef6" stroke-width="0.6" stroke-linejoin="round" fill-opacity="0.85"/>
<polygon points="316.02,299.9 320.31,297.35 325.41,294.8 330,292.24 334.08,289.69 335.41,289.69 334.59,291.22 330.51,293.78 325.92,296.33 321.33,298.37 317.24,300.2" fill="#4ff806" stroke="#4ff806" stroke-width="0.6" stroke-linejoin="round"/>
<ellipse cx="319.3" cy="298.9" rx="0.8" ry="0.7" transform="rotate(0 319.3 298.9)" fill="#1d2ef6"/>
<ellipse cx="321.8" cy="297.9" rx="0.8" ry="0.7" transform="rotate(0 321.8 297.9)" fill="#1d2ef6"/>
<ellipse cx="324.4" cy="296.3" rx="0.8" ry="0.7" transform="rotate(0 324.4 296.3)" fill="#1d2ef6"/>
<text x="224.33" y="197.6" class="lt" style="font-size:15px;font-weight:bold;" textLength="11.01" lengthAdjust="spacingAndGlyphs">D</text>
<line x1="74.22" y1="431.1" x2="104.78" y2="431.1" class="pl8e"/>
<line x1="59.4" y1="424.38" x2="119.6" y2="424.38" class="pl"/>
<line x1="45.5" y1="417.65" x2="133.5" y2="417.65" class="pl"/>
<line x1="32.93" y1="410.93" x2="146.07" y2="410.93" class="pl"/>
<line x1="22.09" y1="404.2" x2="156.91" y2="404.2" class="pl"/>
<line x1="13.29" y1="397.48" x2="165.71" y2="397.48" class="pl"/>
<line x1="6.81" y1="390.75" x2="172.19" y2="390.75" class="pl"/>
<line x1="2.84" y1="384.03" x2="176.16" y2="384.03" class="pl"/>
<line x1="1.5" y1="377.3" x2="177.5" y2="377.3" class="pl"/>
<line x1="2.84" y1="370.57" x2="176.16" y2="370.57" class="pl"/>
<line x1="6.81" y1="363.85" x2="172.19" y2="363.85" class="pl"/>
<line x1="13.29" y1="357.12" x2="165.71" y2="357.12" class="pl"/>
<line x1="22.09" y1="350.4" x2="156.91" y2="350.4" class="pl"/>
<line x1="32.93" y1="343.68" x2="146.07" y2="343.68" class="pl"/>
<line x1="45.5" y1="336.95" x2="133.5" y2="336.95" class="pl"/>
<line x1="59.4" y1="330.23" x2="119.6" y2="330.23" class="pl"/>
<line x1="74.22" y1="323.5" x2="104.78" y2="323.5" class="pl8e"/>
<polyline points="74.22,431.1 68.21,428.41 62.31,425.72 56.53,423.03 50.92,420.34 45.5,417.65 40.29,414.96 35.32,412.27 30.62,409.58 26.2,406.89 22.09,404.2 18.31,401.51 14.87,398.82 11.8,396.13 9.11,393.44 6.81,390.75 4.91,388.06 3.42,385.37 2.36,382.68 1.71,379.99 1.5,377.3 1.71,374.61 2.36,371.92 3.42,369.23 4.91,366.54 6.81,363.85 9.11,361.16 11.8,358.47 14.87,355.78 18.31,353.09 22.09,350.4 26.2,347.71 30.62,345.02 35.32,342.33 40.29,339.64 45.5,336.95 50.92,334.26 56.53,331.57 62.31,328.88 68.21,326.19 74.22,323.5" class="me"/>
<polyline points="75.92,431.1 70.58,428.41 65.33,425.72 60.2,423.03 55.21,420.34 50.39,417.65 45.76,414.96 41.34,412.27 37.16,409.58 33.23,406.89 29.58,404.2 26.22,401.51 23.16,398.82 20.43,396.13 18.04,393.44 16,390.75 14.31,388.06 12.99,385.37 12.04,382.68 11.47,379.99 11.28,377.3 11.47,374.61 12.04,371.92 12.99,369.23 14.31,366.54 16,363.85 18.04,361.16 20.43,358.47 23.16,355.78 26.22,353.09 29.58,350.4 33.23,347.71 37.16,345.02 41.34,342.33 45.76,339.64 50.39,336.95 55.21,334.26 60.2,331.57 65.33,328.88 70.58,326.19 75.92,323.5" class="me"/>
<polyline points="77.61,431.1 72.94,428.41 68.35,425.72 63.86,423.03 59.5,420.34 55.28,417.65 51.23,414.96 47.36,412.27 43.7,409.58 40.27,406.89 37.07,404.2 34.13,401.51 31.46,398.82 29.07,396.13 26.97,393.44 25.18,390.75 23.71,388.06 22.55,385.37 21.72,382.68 21.22,379.99 21.06,377.3 21.22,374.61 21.72,371.92 22.55,369.23 23.71,366.54 25.18,363.85 26.97,361.16 29.07,358.47 31.46,355.78 34.13,353.09 37.07,350.4 40.27,347.71 43.7,345.02 47.36,342.33 51.23,339.64 55.28,336.95 59.5,334.26 63.86,331.57 68.35,328.88 72.94,326.19 77.61,323.5" class="me"/>
<polyline points="79.31,431.1 75.31,428.41 71.37,425.72 67.52,423.03 63.78,420.34 60.17,417.65 56.69,414.96 53.38,412.27 50.24,409.58 47.3,406.89 44.56,404.2 42.04,401.51 39.75,398.82 37.7,396.13 35.91,393.44 34.37,390.75 33.11,388.06 32.12,385.37 31.4,382.68 30.98,379.99 30.83,377.3 30.98,374.61 31.4,371.92 32.12,369.23 33.11,366.54 34.37,363.85 35.91,361.16 37.7,358.47 39.75,355.78 42.04,353.09 44.56,350.4 47.3,347.71 50.24,345.02 53.38,342.33 56.69,339.64 60.17,336.95 63.78,334.26 67.52,331.57 71.37,328.88 75.31,326.19 79.31,323.5" class="me"/>
<polyline points="81.01,431.1 77.67,428.41 74.39,425.72 71.19,423.03 68.07,420.34 65.06,417.65 62.16,414.96 59.4,412.27 56.79,409.58 54.33,406.89 52.05,404.2 49.95,401.51 48.04,398.82 46.33,396.13 44.84,393.44 43.56,390.75 42.5,388.06 41.68,385.37 41.09,382.68 40.73,379.99 40.61,377.3 40.73,374.61 41.09,371.92 41.68,369.23 42.5,366.54 43.56,363.85 44.84,361.16 46.33,358.47 48.04,355.78 49.95,353.09 52.05,350.4 54.33,347.71 56.79,345.02 59.4,342.33 62.16,339.64 65.06,336.95 68.07,334.26 71.19,331.57 74.39,328.88 77.67,326.19 81.01,323.5" class="me"/>
<polyline points="82.71,431.1 80.04,428.41 77.41,425.72 74.85,423.03 72.35,420.34 69.94,417.65 67.63,414.96 65.42,412.27 63.33,409.58 61.37,406.89 59.54,404.2 57.86,401.51 56.33,398.82 54.97,396.13 53.77,393.44 52.75,390.75 51.9,388.06 51.24,385.37 50.77,382.68 50.48,379.99 50.39,377.3 50.48,374.61 50.77,371.92 51.24,369.23 51.9,366.54 52.75,363.85 53.77,361.16 54.97,358.47 56.33,355.78 57.86,353.09 59.54,350.4 61.37,347.71 63.33,345.02 65.42,342.33 67.63,339.64 69.94,336.95 72.35,334.26 74.85,331.57 77.41,328.88 80.04,326.19 82.71,323.5" class="me"/>
<polyline points="84.41,431.1 82.4,428.41 80.44,425.72 78.51,423.03 76.64,420.34 74.83,417.65 73.1,414.96 71.44,412.27 69.87,409.58 68.4,406.89 67.03,404.2 65.77,401.51 64.62,398.82 63.6,396.13 62.7,393.44 61.94,390.75 61.3,388.06 60.81,385.37 60.45,382.68 60.24,379.99 60.17,377.3 60.24,374.61 60.45,371.92 60.81,369.23 61.3,366.54 61.94,363.85 62.7,361.16 63.6,358.47 64.62,355.78 65.77,353.09 67.03,350.4 68.4,347.71 69.87,345.02 71.44,342.33 73.1,339.64 74.83,336.95 76.64,334.26 78.51,331.57 80.44,328.88 82.4,326.19 84.41,323.5" class="me"/>
<polyline points="86.1,431.1 84.77,428.41 83.46,425.72 82.17,423.03 80.93,420.34 79.72,417.65 78.56,414.96 77.46,412.27 76.41,409.58 75.43,406.89 74.52,404.2 73.68,401.51 72.92,398.82 72.23,396.13 71.64,393.44 71.12,390.75 70.7,388.06 70.37,385.37 70.13,382.68 69.99,379.99 69.94,377.3 69.99,374.61 70.13,371.92 70.37,369.23 70.7,366.54 71.12,363.85 71.64,361.16 72.23,358.47 72.92,355.78 73.68,353.09 74.52,350.4 75.43,347.71 76.41,345.02 77.46,342.33 78.56,339.64 79.72,336.95 80.93,334.26 82.17,331.57 83.46,328.88 84.77,326.19 86.1,323.5" class="me"/>
<polyline points="87.8,431.1 87.13,428.41 86.48,425.72 85.84,423.03 85.21,420.34 84.61,417.65 84.03,414.96 83.48,412.27 82.96,409.58 82.47,406.89 82.01,404.2 81.59,401.51 81.21,398.82 80.87,396.13 80.57,393.44 80.31,390.75 80.1,388.06 79.94,385.37 79.82,382.68 79.75,379.99 79.72,377.3 79.75,374.61 79.82,371.92 79.94,369.23 80.1,366.54 80.31,363.85 80.57,361.16 80.87,358.47 81.21,355.78 81.59,353.09 82.01,350.4 82.47,347.71 82.96,345.02 83.48,342.33 84.03,339.64 84.61,336.95 85.21,334.26 85.84,331.57 86.48,328.88 87.13,326.19 87.8,323.5" class="me"/>
<polyline points="89.5,431.1 89.5,428.41 89.5,425.72 89.5,423.03 89.5,420.34 89.5,417.65 89.5,414.96 89.5,412.27 89.5,409.58 89.5,406.89 89.5,404.2 89.5,401.51 89.5,398.82 89.5,396.13 89.5,393.44 89.5,390.75 89.5,388.06 89.5,385.37 89.5,382.68 89.5,379.99 89.5,377.3 89.5,374.61 89.5,371.92 89.5,369.23 89.5,366.54 89.5,363.85 89.5,361.16 89.5,358.47 89.5,355.78 89.5,353.09 89.5,350.4 89.5,347.71 89.5,345.02 89.5,342.33 89.5,339.64 89.5,336.95 89.5,334.26 89.5,331.57 89.5,328.88 89.5,326.19 89.5,323.5" class="me"/>
<polyline points="91.2,431.1 91.87,428.41 92.52,425.72 93.16,423.03 93.79,420.34 94.39,417.65 94.97,414.96 95.52,412.27 96.04,409.58 96.53,406.89 96.99,404.2 97.41,401.51 97.79,398.82 98.13,396.13 98.43,393.44 98.69,390.75 98.9,388.06 99.06,385.37 99.18,382.68 99.25,379.99 99.28,377.3 99.25,374.61 99.18,371.92 99.06,369.23 98.9,366.54 98.69,363.85 98.43,361.16 98.13,358.47 97.79,355.78 97.41,353.09 96.99,350.4 96.53,347.71 96.04,345.02 95.52,342.33 94.97,339.64 94.39,336.95 93.79,334.26 93.16,331.57 92.52,328.88 91.87,326.19 91.2,323.5" class="me"/>
<polyline points="92.9,431.1 94.23,428.41 95.54,425.72 96.83,423.03 98.07,420.34 99.28,417.65 100.44,414.96 101.54,412.27 102.59,409.58 103.57,406.89 104.48,404.2 105.32,401.51 106.08,398.82 106.77,396.13 107.36,393.44 107.88,390.75 108.3,388.06 108.63,385.37 108.87,382.68 109.01,379.99 109.06,377.3 109.01,374.61 108.87,371.92 108.63,369.23 108.3,366.54 107.88,363.85 107.36,361.16 106.77,358.47 106.08,355.78 105.32,353.09 104.48,350.4 103.57,347.71 102.59,345.02 101.54,342.33 100.44,339.64 99.28,336.95 98.07,334.26 96.83,331.57 95.54,328.88 94.23,326.19 92.9,323.5" class="me"/>
<polyline points="94.59,431.1 96.6,428.41 98.56,425.72 100.49,423.03 102.36,420.34 104.17,417.65 105.9,414.96 107.56,412.27 109.13,409.58 110.6,406.89 111.97,404.2 113.23,401.51 114.38,398.82 115.4,396.13 116.3,393.44 117.06,390.75 117.7,388.06 118.19,385.37 118.55,382.68 118.76,379.99 118.83,377.3 118.76,374.61 118.55,371.92 118.19,369.23 117.7,366.54 117.06,363.85 116.3,361.16 115.4,358.47 114.38,355.78 113.23,353.09 111.97,350.4 110.6,347.71 109.13,345.02 107.56,342.33 105.9,339.64 104.17,336.95 102.36,334.26 100.49,331.57 98.56,328.88 96.6,326.19 94.59,323.5" class="me"/>
<polyline points="96.29,431.1 98.96,428.41 101.59,425.72 104.15,423.03 106.65,420.34 109.06,417.65 111.37,414.96 113.58,412.27 115.67,409.58 117.63,406.89 119.46,404.2 121.14,401.51 122.67,398.82 124.03,396.13 125.23,393.44 126.25,390.75 127.1,388.06 127.76,385.37 128.23,382.68 128.52,379.99 128.61,377.3 128.52,374.61 128.23,371.92 127.76,369.23 127.1,366.54 126.25,363.85 125.23,361.16 124.03,358.47 122.67,355.78 121.14,353.09 119.46,350.4 117.63,347.71 115.67,345.02 113.58,342.33 111.37,339.64 109.06,336.95 106.65,334.26 104.15,331.57 101.59,328.88 98.96,326.19 96.29,323.5" class="me"/>
<polyline points="97.99,431.1 101.33,428.41 104.61,425.72 107.81,423.03 110.93,420.34 113.94,417.65 116.84,414.96 119.6,412.27 122.21,409.58 124.67,406.89 126.95,404.2 129.05,401.51 130.96,398.82 132.67,396.13 134.16,393.44 135.44,390.75 136.5,388.06 137.32,385.37 137.91,382.68 138.27,379.99 138.39,377.3 138.27,374.61 137.91,371.92 137.32,369.23 136.5,366.54 135.44,363.85 134.16,361.16 132.67,358.47 130.96,355.78 129.05,353.09 126.95,350.4 124.67,347.71 122.21,345.02 119.6,342.33 116.84,339.64 113.94,336.95 110.93,334.26 107.81,331.57 104.61,328.88 101.33,326.19 97.99,323.5" class="me"/>
<polyline points="99.69,431.1 103.69,428.41 107.63,425.72 111.48,423.03 115.22,420.34 118.83,417.65 122.31,414.96 125.62,412.27 128.76,409.58 131.7,406.89 134.44,404.2 136.96,401.51 139.25,398.82 141.3,396.13 143.09,393.44 144.63,390.75 145.89,388.06 146.88,385.37 147.6,382.68 148.02,379.99 148.17,377.3 148.02,374.61 147.6,371.92 146.88,369.23 145.89,366.54 144.63,363.85 143.09,361.16 141.3,358.47 139.25,355.78 136.96,353.09 134.44,350.4 131.7,347.71 128.76,345.02 125.62,342.33 122.31,339.64 118.83,336.95 115.22,334.26 111.48,331.57 107.63,328.88 103.69,326.19 99.69,323.5" class="me"/>
<polyline points="101.39,431.1 106.06,428.41 110.65,425.72 115.14,423.03 119.5,420.34 123.72,417.65 127.77,414.96 131.64,412.27 135.3,409.58 138.73,406.89 141.93,404.2 144.87,401.51 147.54,398.82 149.93,396.13 152.03,393.44 153.82,390.75 155.29,388.06 156.45,385.37 157.28,382.68 157.78,379.99 157.94,377.3 157.78,374.61 157.28,371.92 156.45,369.23 155.29,366.54 153.82,363.85 152.03,361.16 149.93,358.47 147.54,355.78 144.87,353.09 141.93,350.4 138.73,347.71 135.3,345.02 131.64,342.33 127.77,339.64 123.72,336.95 119.5,334.26 115.14,331.57 110.65,328.88 106.06,326.19 101.39,323.5" class="me"/>
<polyline points="103.08,431.1 108.42,428.41 113.67,425.72 118.8,423.03 123.79,420.34 128.61,417.65 133.24,414.96 137.66,412.27 141.84,409.58 145.77,406.89 149.42,404.2 152.78,401.51 155.84,398.82 158.57,396.13 160.96,393.44 163,390.75 164.69,388.06 166.01,385.37 166.96,382.68 167.53,379.99 167.72,377.3 167.53,374.61 166.96,371.92 166.01,369.23 164.69,366.54 163,363.85 160.96,361.16 158.57,358.47 155.84,355.78 152.78,353.09 149.42,350.4 145.77,347.71 141.84,345.02 137.66,342.33 133.24,339.64 128.61,336.95 123.79,334.26 118.8,331.57 113.67,328.88 108.42,326.19 103.08,323.5" class="me"/>
<polyline points="104.78,431.1 110.79,428.41 116.69,425.72 122.47,423.03 128.08,420.34 133.5,417.65 138.71,414.96 143.68,412.27 148.38,409.58 152.8,406.89 156.91,404.2 160.69,401.51 164.13,398.82 167.2,396.13 169.89,393.44 172.19,390.75 174.09,388.06 175.58,385.37 176.64,382.68 177.29,379.99 177.5,377.3 177.29,374.61 176.64,371.92 175.58,369.23 174.09,366.54 172.19,363.85 169.89,361.16 167.2,358.47 164.13,355.78 160.69,353.09 156.91,350.4 152.8,347.71 148.38,345.02 143.68,342.33 138.71,339.64 133.5,336.95 128.08,334.26 122.47,331.57 116.69,328.88 110.79,326.19 104.78,323.5" class="me"/>
<path d="M74.22,323.5L89.5,316.78M75.92,323.5L89.5,316.78M77.61,323.5L89.5,316.78M79.31,323.5L89.5,316.78M81.01,323.5L89.5,316.78M82.71,323.5L89.5,316.78M84.41,323.5L89.5,316.78M86.1,323.5L89.5,316.78M87.8,323.5L89.5,316.78M89.5,323.5L89.5,316.78M91.2,323.5L89.5,316.78M92.9,323.5L89.5,316.78M94.59,323.5L89.5,316.78M96.29,323.5L89.5,316.78M97.99,323.5L89.5,316.78M99.69,323.5L89.5,316.78M101.39,323.5L89.5,316.78M103.08,323.5L89.5,316.78M104.78,323.5L89.5,316.78" class="cape"/>
<path d="M83.69,319.33L89.5,316.78L95.31,319.33" class="capedge"/>
<path d="M74.22,431.1L89.5,437.82M75.92,431.1L89.5,437.82M77.61,431.1L89.5,437.82M79.31,431.1L89.5,437.82M81.01,431.1L89.5,437.82M82.71,431.1L89.5,437.82M84.41,431.1L89.5,437.82M86.1,431.1L89.5,437.82M87.8,431.1L89.5,437.82M89.5,431.1L89.5,437.82M91.2,431.1L89.5,437.82M92.9,431.1L89.5,437.82M94.59,431.1L89.5,437.82M96.29,431.1L89.5,437.82M97.99,431.1L89.5,437.82M99.69,431.1L89.5,437.82M101.39,431.1L89.5,437.82M103.08,431.1L89.5,437.82M104.78,431.1L89.5,437.82" class="cape"/>
<path d="M83.69,435.27L89.5,437.82L95.31,435.27" class="capedge"/>
<ellipse cx="45.5" cy="337.2" rx="3.6" ry="1.2" transform="rotate(-18 45.5 337.2)" fill="#4ff806"/>
<ellipse cx="53.2" cy="335.2" rx="0.7" ry="0.7" transform="rotate(0 53.2 335.2)" fill="#4ff806"/>
<polygon points="129.18,335.2 132.24,336.22 135.31,337.45 138.37,339.29 141.43,341.33 142.65,343.16 140.92,343.98 138.88,343.16 136.33,341.33 133.78,339.29 131.73,337.45 129.39,335.82" fill="#4ff806" stroke="#4ff806" stroke-width="0.6" stroke-linejoin="round"/>
<ellipse cx="143.3" cy="343.3" rx="1.7" ry="1" transform="rotate(10 143.3 343.3)" fill="#1d2ef6"/>
<ellipse cx="99.8" cy="358.5" rx="4.4" ry="1.8" transform="rotate(-8 99.8 358.5)" fill="#1d2ef6"/>
<ellipse cx="104.4" cy="356.3" rx="1.2" ry="1.2" transform="rotate(0 104.4 356.3)" fill="#4ff806"/>
<polygon points="56.71,359.94 57.9,359.55 58.7,361.14 57.9,363.52 56.31,365.91 55.12,368.7 54.32,371.48 53.92,373.87 53.52,375.46 52.97,375.06 52.97,372.28 53.13,369.49 53.92,366.31 55.12,363.13 55.91,361.14" fill="#fe1616" stroke="#fe1616" stroke-width="0.6" stroke-linejoin="round"/>
<ellipse cx="53.4" cy="379" rx="0.5" ry="0.6" transform="rotate(0 53.4 379)" fill="#ff8080"/>
<polygon points="140.75,379.94 141.71,380.34 141.55,383.52 140.91,387.5 140.51,390.68 139.32,393.07 137.33,395.06 136.14,395.3 136.3,393.87 137.73,391.08 138.92,387.9 139.72,384.32 140.27,381.54" fill="#fe1616" stroke="#fe1616" stroke-width="0.6" stroke-linejoin="round"/>
<ellipse cx="140.9" cy="375.6" rx="0.6" ry="0.5" transform="rotate(0 140.9 375.6)" fill="#ff9090"/>
<ellipse cx="23.5" cy="396.6" rx="4.5" ry="1.6" transform="rotate(14 23.5 396.6)" fill="#1d2ef6"/>
<ellipse cx="29.2" cy="398.3" rx="1.5" ry="1.3" transform="rotate(0 29.2 398.3)" fill="#4ff806"/>
<polygon points="83.42,411.09 85.71,411.48 87.24,413.01 88.77,414.92 90.68,416.45 91.83,417.98 90.68,418.75 88.77,418.36 87.24,417.21 85.71,415.3 84.18,413.39 83.26,412.09" fill="#4ff806" stroke="#4ff806" stroke-width="0.6" stroke-linejoin="round"/>
<ellipse cx="88" cy="411.9" rx="1.2" ry="0.8" transform="rotate(0 88 411.9)" fill="#1d2ef6"/>
<text x="13.62" y="329.4" class="lt" style="font-size:15px;font-weight:bold;" textLength="7.38" lengthAdjust="spacingAndGlyphs">E</text>
<line x1="284.54" y1="431.1" x2="315.06" y2="431.1" class="pl8e"/>
<line x1="269.74" y1="424.38" x2="329.86" y2="424.38" class="pl"/>
<line x1="255.85" y1="417.65" x2="343.75" y2="417.65" class="pl"/>
<line x1="243.3" y1="410.93" x2="356.3" y2="410.93" class="pl"/>
<line x1="232.46" y1="404.2" x2="367.14" y2="404.2" class="pl"/>
<line x1="223.68" y1="397.48" x2="375.92" y2="397.48" class="pl"/>
<line x1="217.2" y1="390.75" x2="382.4" y2="390.75" class="pl"/>
<line x1="213.24" y1="384.03" x2="386.36" y2="384.03" class="pl"/>
<line x1="211.9" y1="377.3" x2="387.7" y2="377.3" class="pl"/>
<line x1="213.24" y1="370.57" x2="386.36" y2="370.57" class="pl"/>
<line x1="217.2" y1="363.85" x2="382.4" y2="363.85" class="pl"/>
<line x1="223.68" y1="357.12" x2="375.92" y2="357.12" class="pl"/>
<line x1="232.46" y1="350.4" x2="367.14" y2="350.4" class="pl"/>
<line x1="243.3" y1="343.68" x2="356.3" y2="343.68" class="pl"/>
<line x1="255.85" y1="336.95" x2="343.75" y2="336.95" class="pl"/>
<line x1="269.74" y1="330.23" x2="329.86" y2="330.23" class="pl"/>
<line x1="284.54" y1="323.5" x2="315.06" y2="323.5" class="pl8e"/>
<polyline points="284.54,431.1 278.54,428.41 272.64,425.72 266.87,423.03 261.27,420.34 255.85,417.65 250.65,414.96 245.68,412.27 240.98,409.58 236.57,406.89 232.46,404.2 228.69,401.51 225.26,398.82 222.19,396.13 219.5,393.44 217.2,390.75 215.31,388.06 213.82,385.37 212.76,382.68 212.11,379.99 211.9,377.3 212.11,374.61 212.76,371.92 213.82,369.23 215.31,366.54 217.2,363.85 219.5,361.16 222.19,358.47 225.26,355.78 228.69,353.09 232.46,350.4 236.57,347.71 240.98,345.02 245.68,342.33 250.65,339.64 255.85,336.95 261.27,334.26 266.87,331.57 272.64,328.88 278.54,326.19 284.54,323.5" class="me"/>
<polyline points="286.23,431.1 280.9,428.41 275.66,425.72 270.53,423.03 265.55,420.34 260.73,417.65 256.11,414.96 251.7,412.27 247.52,409.58 243.6,406.89 239.95,404.2 236.59,401.51 233.54,398.82 230.81,396.13 228.42,393.44 226.38,390.75 224.69,388.06 223.37,385.37 222.43,382.68 221.86,379.99 221.67,377.3 221.86,374.61 222.43,371.92 223.37,369.23 224.69,366.54 226.38,363.85 228.42,361.16 230.81,358.47 233.54,355.78 236.59,353.09 239.95,350.4 243.6,347.71 247.52,345.02 251.7,342.33 256.11,339.64 260.73,336.95 265.55,334.26 270.53,331.57 275.66,328.88 280.9,326.19 286.23,323.5" class="me"/>
<polyline points="287.93,431.1 283.26,428.41 278.67,425.72 274.19,423.03 269.83,420.34 265.62,417.65 261.57,414.96 257.71,412.27 254.05,409.58 250.62,406.89 247.43,404.2 244.49,401.51 241.82,398.82 239.44,396.13 237.34,393.44 235.56,390.75 234.08,388.06 232.93,385.37 232.1,382.68 231.6,379.99 231.43,377.3 231.6,374.61 232.1,371.92 232.93,369.23 234.08,366.54 235.56,363.85 237.34,361.16 239.44,358.47 241.82,355.78 244.49,353.09 247.43,350.4 250.62,347.71 254.05,345.02 257.71,342.33 261.57,339.64 265.62,336.95 269.83,334.26 274.19,331.57 278.67,328.88 283.26,326.19 287.93,323.5" class="me"/>
<polyline points="289.62,431.1 285.62,428.41 281.69,425.72 277.85,423.03 274.11,420.34 270.5,417.65 267.03,414.96 263.72,412.27 260.59,409.58 257.65,406.89 254.91,404.2 252.39,401.51 250.1,398.82 248.06,396.13 246.27,393.44 244.73,390.75 243.47,388.06 242.48,385.37 241.77,382.68 241.34,379.99 241.2,377.3 241.34,374.61 241.77,371.92 242.48,369.23 243.47,366.54 244.73,363.85 246.27,361.16 248.06,358.47 250.1,355.78 252.39,353.09 254.91,350.4 257.65,347.71 260.59,345.02 263.72,342.33 267.03,339.64 270.5,336.95 274.11,334.26 277.85,331.57 281.69,328.88 285.62,326.19 289.62,323.5" class="me"/>
<polyline points="291.32,431.1 287.99,428.41 284.71,425.72 281.51,423.03 278.39,420.34 275.38,417.65 272.49,414.96 269.74,412.27 267.12,409.58 264.67,406.89 262.39,404.2 260.29,401.51 258.39,398.82 256.68,396.13 255.19,393.44 253.91,390.75 252.86,388.06 252.03,385.37 251.44,382.68 251.09,379.99 250.97,377.3 251.09,374.61 251.44,371.92 252.03,369.23 252.86,366.54 253.91,363.85 255.19,361.16 256.68,358.47 258.39,355.78 260.29,353.09 262.39,350.4 264.67,347.71 267.12,345.02 269.74,342.33 272.49,339.64 275.38,336.95 278.39,334.26 281.51,331.57 284.71,328.88 287.99,326.19 291.32,323.5" class="me"/>
<polyline points="293.02,431.1 290.35,428.41 287.73,425.72 285.17,423.03 282.67,420.34 280.27,417.65 277.95,414.96 275.75,412.27 273.66,409.58 271.7,406.89 269.87,404.2 268.19,401.51 266.67,398.82 265.31,396.13 264.11,393.44 263.09,390.75 262.25,388.06 261.59,385.37 261.11,382.68 260.83,379.99 260.73,377.3 260.83,374.61 261.11,371.92 261.59,369.23 262.25,366.54 263.09,363.85 264.11,361.16 265.31,358.47 266.67,355.78 268.19,353.09 269.87,350.4 271.7,347.71 273.66,345.02 275.75,342.33 277.95,339.64 280.27,336.95 282.67,334.26 285.17,331.57 287.73,328.88 290.35,326.19 293.02,323.5" class="me"/>
<polyline points="294.71,431.1 292.71,428.41 290.75,425.72 288.82,423.03 286.96,420.34 285.15,417.65 283.42,414.96 281.76,412.27 280.19,409.58 278.72,406.89 277.35,404.2 276.1,401.51 274.95,398.82 273.93,396.13 273.03,393.44 272.27,390.75 271.64,388.06 271.14,385.37 270.79,382.68 270.57,379.99 270.5,377.3 270.57,374.61 270.79,371.92 271.14,369.23 271.64,366.54 272.27,363.85 273.03,361.16 273.93,358.47 274.95,355.78 276.1,353.09 277.35,350.4 278.72,347.71 280.19,345.02 281.76,342.33 283.42,339.64 285.15,336.95 286.96,334.26 288.82,331.57 290.75,328.88 292.71,326.19 294.71,323.5" class="me"/>
<polyline points="296.41,431.1 295.07,428.41 293.76,425.72 292.48,423.03 291.24,420.34 290.03,417.65 288.88,414.96 287.77,412.27 286.73,409.58 285.75,406.89 284.84,404.2 284,401.51 283.23,398.82 282.55,396.13 281.96,393.44 281.44,390.75 281.02,388.06 280.69,385.37 280.46,382.68 280.31,379.99 280.27,377.3 280.31,374.61 280.46,371.92 280.69,369.23 281.02,366.54 281.44,363.85 281.96,361.16 282.55,358.47 283.23,355.78 284,353.09 284.84,350.4 285.75,347.71 286.73,345.02 287.77,342.33 288.88,339.64 290.03,336.95 291.24,334.26 292.48,331.57 293.76,328.88 295.07,326.19 296.41,323.5" class="me"/>
<polyline points="298.1,431.1 297.44,428.41 296.78,425.72 296.14,423.03 295.52,420.34 294.92,417.65 294.34,414.96 293.79,412.27 293.26,409.58 292.77,406.89 292.32,404.2 291.9,401.51 291.52,398.82 291.18,396.13 290.88,393.44 290.62,390.75 290.41,388.06 290.25,385.37 290.13,382.68 290.06,379.99 290.03,377.3 290.06,374.61 290.13,371.92 290.25,369.23 290.41,366.54 290.62,363.85 290.88,361.16 291.18,358.47 291.52,355.78 291.9,353.09 292.32,350.4 292.77,347.71 293.26,345.02 293.79,342.33 294.34,339.64 294.92,336.95 295.52,334.26 296.14,331.57 296.78,328.88 297.44,326.19 298.1,323.5" class="me"/>
<polyline points="299.8,431.1 299.8,428.41 299.8,425.72 299.8,423.03 299.8,420.34 299.8,417.65 299.8,414.96 299.8,412.27 299.8,409.58 299.8,406.89 299.8,404.2 299.8,401.51 299.8,398.82 299.8,396.13 299.8,393.44 299.8,390.75 299.8,388.06 299.8,385.37 299.8,382.68 299.8,379.99 299.8,377.3 299.8,374.61 299.8,371.92 299.8,369.23 299.8,366.54 299.8,363.85 299.8,361.16 299.8,358.47 299.8,355.78 299.8,353.09 299.8,350.4 299.8,347.71 299.8,345.02 299.8,342.33 299.8,339.64 299.8,336.95 299.8,334.26 299.8,331.57 299.8,328.88 299.8,326.19 299.8,323.5" class="me"/>
<polyline points="301.5,431.1 302.16,428.41 302.82,425.72 303.46,423.03 304.08,420.34 304.68,417.65 305.26,414.96 305.81,412.27 306.34,409.58 306.83,406.89 307.28,404.2 307.7,401.51 308.08,398.82 308.42,396.13 308.72,393.44 308.98,390.75 309.19,388.06 309.35,385.37 309.47,382.68 309.54,379.99 309.57,377.3 309.54,374.61 309.47,371.92 309.35,369.23 309.19,366.54 308.98,363.85 308.72,361.16 308.42,358.47 308.08,355.78 307.7,353.09 307.28,350.4 306.83,347.71 306.34,345.02 305.81,342.33 305.26,339.64 304.68,336.95 304.08,334.26 303.46,331.57 302.82,328.88 302.16,326.19 301.5,323.5" class="me"/>
<polyline points="303.19,431.1 304.53,428.41 305.84,425.72 307.12,423.03 308.36,420.34 309.57,417.65 310.72,414.96 311.83,412.27 312.87,409.58 313.85,406.89 314.76,404.2 315.6,401.51 316.37,398.82 317.05,396.13 317.64,393.44 318.16,390.75 318.58,388.06 318.91,385.37 319.14,382.68 319.29,379.99 319.33,377.3 319.29,374.61 319.14,371.92 318.91,369.23 318.58,366.54 318.16,363.85 317.64,361.16 317.05,358.47 316.37,355.78 315.6,353.09 314.76,350.4 313.85,347.71 312.87,345.02 311.83,342.33 310.72,339.64 309.57,336.95 308.36,334.26 307.12,331.57 305.84,328.88 304.53,326.19 303.19,323.5" class="me"/>
<polyline points="304.89,431.1 306.89,428.41 308.85,425.72 310.78,423.03 312.64,420.34 314.45,417.65 316.18,414.96 317.84,412.27 319.41,409.58 320.88,406.89 322.25,404.2 323.5,401.51 324.65,398.82 325.67,396.13 326.57,393.44 327.33,390.75 327.96,388.06 328.46,385.37 328.81,382.68 329.03,379.99 329.1,377.3 329.03,374.61 328.81,371.92 328.46,369.23 327.96,366.54 327.33,363.85 326.57,361.16 325.67,358.47 324.65,355.78 323.5,353.09 322.25,350.4 320.88,347.71 319.41,345.02 317.84,342.33 316.18,339.64 314.45,336.95 312.64,334.26 310.78,331.57 308.85,328.88 306.89,326.19 304.89,323.5" class="me"/>
<polyline points="306.58,431.1 309.25,428.41 311.87,425.72 314.43,423.03 316.93,420.34 319.33,417.65 321.65,414.96 323.85,412.27 325.94,409.58 327.9,406.89 329.73,404.2 331.41,401.51 332.93,398.82 334.29,396.13 335.49,393.44 336.51,390.75 337.35,388.06 338.01,385.37 338.49,382.68 338.77,379.99 338.87,377.3 338.77,374.61 338.49,371.92 338.01,369.23 337.35,366.54 336.51,363.85 335.49,361.16 334.29,358.47 332.93,355.78 331.41,353.09 329.73,350.4 327.9,347.71 325.94,345.02 323.85,342.33 321.65,339.64 319.33,336.95 316.93,334.26 314.43,331.57 311.87,328.88 309.25,326.19 306.58,323.5" class="me"/>
<polyline points="308.28,431.1 311.61,428.41 314.89,425.72 318.09,423.03 321.21,420.34 324.22,417.65 327.11,414.96 329.86,412.27 332.48,409.58 334.93,406.89 337.21,404.2 339.31,401.51 341.21,398.82 342.92,396.13 344.41,393.44 345.69,390.75 346.74,388.06 347.57,385.37 348.16,382.68 348.51,379.99 348.63,377.3 348.51,374.61 348.16,371.92 347.57,369.23 346.74,366.54 345.69,363.85 344.41,361.16 342.92,358.47 341.21,355.78 339.31,353.09 337.21,350.4 334.93,347.71 332.48,345.02 329.86,342.33 327.11,339.64 324.22,336.95 321.21,334.26 318.09,331.57 314.89,328.88 311.61,326.19 308.28,323.5" class="me"/>
<polyline points="309.98,431.1 313.98,428.41 317.91,425.72 321.75,423.03 325.49,420.34 329.1,417.65 332.57,414.96 335.88,412.27 339.01,409.58 341.95,406.89 344.69,404.2 347.21,401.51 349.5,398.82 351.54,396.13 353.33,393.44 354.87,390.75 356.13,388.06 357.12,385.37 357.83,382.68 358.26,379.99 358.4,377.3 358.26,374.61 357.83,371.92 357.12,369.23 356.13,366.54 354.87,363.85 353.33,361.16 351.54,358.47 349.5,355.78 347.21,353.09 344.69,350.4 341.95,347.71 339.01,345.02 335.88,342.33 332.57,339.64 329.1,336.95 325.49,334.26 321.75,331.57 317.91,328.88 313.98,326.19 309.98,323.5" class="me"/>
<polyline points="311.67,431.1 316.34,428.41 320.93,425.72 325.41,423.03 329.77,420.34 333.98,417.65 338.03,414.96 341.89,412.27 345.55,409.58 348.98,406.89 352.17,404.2 355.11,401.51 357.78,398.82 360.16,396.13 362.26,393.44 364.04,390.75 365.52,388.06 366.67,385.37 367.5,382.68 368,379.99 368.17,377.3 368,374.61 367.5,371.92 366.67,369.23 365.52,366.54 364.04,363.85 362.26,361.16 360.16,358.47 357.78,355.78 355.11,353.09 352.17,350.4 348.98,347.71 345.55,345.02 341.89,342.33 338.03,339.64 333.98,336.95 329.77,334.26 325.41,331.57 320.93,328.88 316.34,326.19 311.67,323.5" class="me"/>
<polyline points="313.37,431.1 318.7,428.41 323.94,425.72 329.07,423.03 334.05,420.34 338.87,417.65 343.49,414.96 347.9,412.27 352.08,409.58 356,406.89 359.65,404.2 363.01,401.51 366.06,398.82 368.79,396.13 371.18,393.44 373.22,390.75 374.91,388.06 376.23,385.37 377.17,382.68 377.74,379.99 377.93,377.3 377.74,374.61 377.17,371.92 376.23,369.23 374.91,366.54 373.22,363.85 371.18,361.16 368.79,358.47 366.06,355.78 363.01,353.09 359.65,350.4 356,347.71 352.08,345.02 347.9,342.33 343.49,339.64 338.87,336.95 334.05,334.26 329.07,331.57 323.94,328.88 318.7,326.19 313.37,323.5" class="me"/>
<polyline points="315.06,431.1 321.06,428.41 326.96,425.72 332.73,423.03 338.33,420.34 343.75,417.65 348.95,414.96 353.92,412.27 358.62,409.58 363.03,406.89 367.14,404.2 370.91,401.51 374.34,398.82 377.41,396.13 380.1,393.44 382.4,390.75 384.29,388.06 385.78,385.37 386.84,382.68 387.49,379.99 387.7,377.3 387.49,374.61 386.84,371.92 385.78,369.23 384.29,366.54 382.4,363.85 380.1,361.16 377.41,358.47 374.34,355.78 370.91,353.09 367.14,350.4 363.03,347.71 358.62,345.02 353.92,342.33 348.95,339.64 343.75,336.95 338.33,334.26 332.73,331.57 326.96,328.88 321.06,326.19 315.06,323.5" class="me"/>
<path d="M284.54,323.5L299.8,316.78M286.23,323.5L299.8,316.78M287.93,323.5L299.8,316.78M289.62,323.5L299.8,316.78M291.32,323.5L299.8,316.78M293.02,323.5L299.8,316.78M294.71,323.5L299.8,316.78M296.41,323.5L299.8,316.78M298.1,323.5L299.8,316.78M299.8,323.5L299.8,316.78M301.5,323.5L299.8,316.78M303.19,323.5L299.8,316.78M304.89,323.5L299.8,316.78M306.58,323.5L299.8,316.78M308.28,323.5L299.8,316.78M309.98,323.5L299.8,316.78M311.67,323.5L299.8,316.78M313.37,323.5L299.8,316.78M315.06,323.5L299.8,316.78" class="cape"/>
<path d="M294,319.33L299.8,316.78L305.6,319.33" class="capedge"/>
<path d="M284.54,431.1L299.8,437.82M286.23,431.1L299.8,437.82M287.93,431.1L299.8,437.82M289.62,431.1L299.8,437.82M291.32,431.1L299.8,437.82M293.02,431.1L299.8,437.82M294.71,431.1L299.8,437.82M296.41,431.1L299.8,437.82M298.1,431.1L299.8,437.82M299.8,431.1L299.8,437.82M301.5,431.1L299.8,437.82M303.19,431.1L299.8,437.82M304.89,431.1L299.8,437.82M306.58,431.1L299.8,437.82M308.28,431.1L299.8,437.82M309.98,431.1L299.8,437.82M311.67,431.1L299.8,437.82M313.37,431.1L299.8,437.82M315.06,431.1L299.8,437.82" class="cape"/>
<path d="M294,435.27L299.8,437.82L305.6,435.27" class="capedge"/>
<polygon points="308.03,329.18 310.33,329.56 312.62,331.09 315.3,332.62 317.21,334.15 317.98,335.68 316.83,336.07 314.92,334.92 312.62,333.39 310.71,332.24 308.8,330.71" fill="#4ff806" stroke="#4ff806" stroke-width="0.6" stroke-linejoin="round"/>
<polygon points="309.95,331.86 312.24,332.24 314.54,333.01 316.45,334.15 316.83,335.3 315.3,335.53 313.01,334.92 311.09,333.93 310.1,332.85" fill="#1d2ef6" stroke="#1d2ef6" stroke-width="0.6" stroke-linejoin="round"/>
<polygon points="223.51,366.72 224.89,365.35 226.49,364.66 228.1,364.43 229.25,364.2 229.02,365.35 227.64,366.49 226.26,367.64 224.89,368.79 223.74,369.02 223.28,368.1" fill="#1d2ef6" stroke="#1d2ef6" stroke-width="0.6" stroke-linejoin="round"/>
<polygon points="223.97,365.35 225.35,364.2 227.18,363.51 228.79,362.96 229.25,363.42 228.1,363.97 226.72,364.43 225.35,364.89 224.2,365.58" fill="#4ff806" stroke="#4ff806" stroke-width="0.6" stroke-linejoin="round"/>
<polygon points="270.3,362.04 271.07,363.42 270.91,365.71 271.45,367.62 271.22,369.92 270.68,371.45 269.92,370.3 269.54,367.62 269.69,364.95 269.92,363.03" fill="#fe1616" stroke="#fe1616" stroke-width="0.6" stroke-linejoin="round"/>
<polygon points="309.4,386.52 310.7,387.17 312,388.15 312.65,388.8 312,389.78 311.68,390.75 310.38,391.08 309.08,390.43 308.43,389.13 308.75,387.83" fill="#1d2ef6" stroke="#1d2ef6" stroke-width="0.6" stroke-linejoin="round"/>
<polygon points="308.44,390.3 310.36,391.07 312.27,390.91 311.89,391.83 309.97,391.99 308.67,391.45" fill="#4ff806" stroke="#4ff806" stroke-width="0.6" stroke-linejoin="round"/>
<polygon points="357.24,383.42 357.62,384.56 356.48,387.62 354.95,389.92 353.03,391.83 351.5,392.6 351.73,391.45 353.42,389.15 354.95,386.86 356.48,384.56" fill="#fe1616" stroke="#fe1616" stroke-width="0.6" stroke-linejoin="round"/>
<polygon points="274.95,419.18 276.48,418.8 277.24,420.33 277.62,422.24 276.48,423.01 275.33,422.24 274.79,420.71" fill="#1d2ef6" stroke="#1d2ef6" stroke-width="0.6" stroke-linejoin="round"/>
<polygon points="277.62,420.71 279.15,421.09 280.3,422.62 281.07,424.54 280.68,426.07 279.92,425.68 279.15,424.15 278.01,423.01 277.47,421.86" fill="#4ff806" stroke="#4ff806" stroke-width="0.6" stroke-linejoin="round"/>
<ellipse cx="276.8" cy="419.3" rx="0.9" ry="0.6" transform="rotate(0 276.8 419.3)" fill="#4ff806"/>
<text x="224.57" y="329.6" class="lt" style="font-size:15px;font-weight:bold;" textLength="7.21" lengthAdjust="spacingAndGlyphs">F</text>
</svg></body></html>
